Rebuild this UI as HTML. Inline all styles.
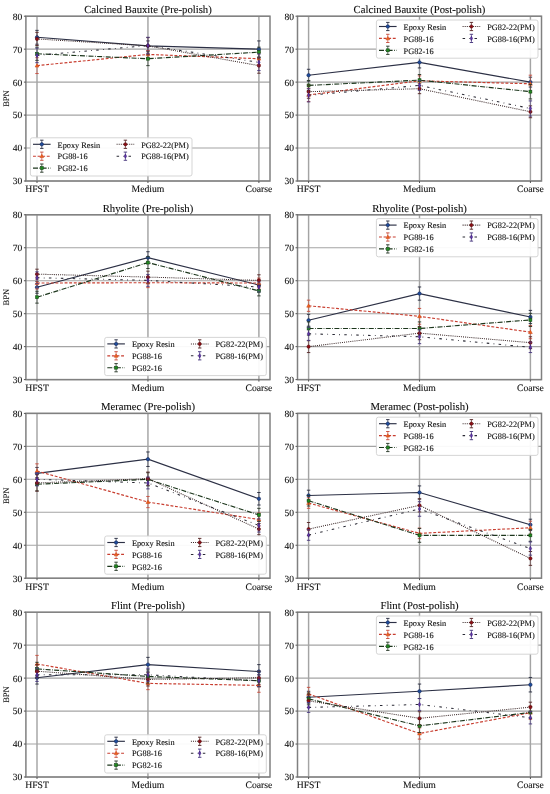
<!DOCTYPE html>
<html><head><meta charset="utf-8"><title>BPN charts</title>
<style>
html,body{margin:0;padding:0;background:#fff;}
body{width:550px;height:794px;overflow:hidden;font-family:"Liberation Serif",serif;}
svg{display:block;filter:blur(0.35px);}
text{text-rendering:geometricPrecision;stroke:#111;stroke-width:0.1px;}
</style></head><body>
<svg width="550" height="794" viewBox="0 0 550 794" font-family='"Liberation Serif", serif' fill="#0c0c0c">
<line x1="25.9" y1="181" x2="270" y2="181" stroke="#a4a4a4" stroke-width="1.1"/>
<line x1="25.9" y1="148.04" x2="270" y2="148.04" stroke="#a4a4a4" stroke-width="1.1"/>
<line x1="25.9" y1="115.08" x2="270" y2="115.08" stroke="#a4a4a4" stroke-width="1.1"/>
<line x1="25.9" y1="82.12" x2="270" y2="82.12" stroke="#a4a4a4" stroke-width="1.1"/>
<line x1="25.9" y1="49.16" x2="270" y2="49.16" stroke="#a4a4a4" stroke-width="1.1"/>
<line x1="25.9" y1="16.2" x2="270" y2="16.2" stroke="#a4a4a4" stroke-width="1.1"/>
<line x1="37" y1="16.2" x2="37" y2="181" stroke="#a4a4a4" stroke-width="1.45"/>
<line x1="147.95" y1="16.2" x2="147.95" y2="181" stroke="#a4a4a4" stroke-width="1.45"/>
<line x1="258.9" y1="16.2" x2="258.9" y2="181" stroke="#a4a4a4" stroke-width="1.45"/>
<rect x="25.9" y="16.2" width="244.1" height="164.8" fill="none" stroke="#808080" stroke-width="1.5"/>
<line x1="23.9" y1="181" x2="25.9" y2="181" stroke="#555" stroke-width="1"/>
<text x="22.3" y="184.4" font-size="9.5" text-anchor="end">30</text>
<line x1="23.9" y1="148.04" x2="25.9" y2="148.04" stroke="#555" stroke-width="1"/>
<text x="22.3" y="151.44" font-size="9.5" text-anchor="end">40</text>
<line x1="23.9" y1="115.08" x2="25.9" y2="115.08" stroke="#555" stroke-width="1"/>
<text x="22.3" y="118.48" font-size="9.5" text-anchor="end">50</text>
<line x1="23.9" y1="82.12" x2="25.9" y2="82.12" stroke="#555" stroke-width="1"/>
<text x="22.3" y="85.52" font-size="9.5" text-anchor="end">60</text>
<line x1="23.9" y1="49.16" x2="25.9" y2="49.16" stroke="#555" stroke-width="1"/>
<text x="22.3" y="52.56" font-size="9.5" text-anchor="end">70</text>
<line x1="23.9" y1="16.2" x2="25.9" y2="16.2" stroke="#555" stroke-width="1"/>
<text x="22.3" y="19.6" font-size="9.5" text-anchor="end">80</text>
<line x1="37" y1="181" x2="37" y2="183" stroke="#555" stroke-width="1"/>
<text x="37" y="192.3" font-size="9.7" text-anchor="middle">HFST</text>
<line x1="147.95" y1="181" x2="147.95" y2="183" stroke="#555" stroke-width="1"/>
<text x="147.95" y="192.3" font-size="9.7" text-anchor="middle">Medium</text>
<line x1="258.9" y1="181" x2="258.9" y2="183" stroke="#555" stroke-width="1"/>
<text x="258.9" y="192.3" font-size="9.7" text-anchor="middle">Coarse</text>
<text x="147.95" y="13" font-size="10.7" text-anchor="middle">Calcined Bauxite (Pre-polish)</text>
<text x="0" y="0" font-size="8.5" text-anchor="middle" transform="translate(9.4 98.6) rotate(-90)">BPN</text>
<path d="M37 37.29 L147.95 45.86 L258.9 49.16" fill="none" stroke="#2c3045" stroke-width="1.15"/>
<path d="M37 30.37V44.22" stroke="#2c3045" stroke-width="0.6" stroke-opacity="0.85" fill="none"/>
<path d="M35.3 30.37H38.7M35.3 44.22H38.7" stroke="#2c3045" stroke-width="0.95" fill="none"/>
<path d="M147.95 40.92V50.81" stroke="#2c3045" stroke-width="0.6" stroke-opacity="0.85" fill="none"/>
<path d="M146.25 40.92H149.65M146.25 50.81H149.65" stroke="#2c3045" stroke-width="0.95" fill="none"/>
<path d="M258.9 40.92V57.4" stroke="#2c3045" stroke-width="0.6" stroke-opacity="0.85" fill="none"/>
<path d="M257.2 40.92H260.6M257.2 57.4H260.6" stroke="#2c3045" stroke-width="0.95" fill="none"/>
<circle cx="37" cy="37.29" r="1.7" fill="#1f4e9e" stroke="#17285a" stroke-width="0.6"/>
<circle cx="147.95" cy="45.86" r="1.7" fill="#1f4e9e" stroke="#17285a" stroke-width="0.6"/>
<circle cx="258.9" cy="49.16" r="1.7" fill="#1f4e9e" stroke="#17285a" stroke-width="0.6"/>
<path d="M37 65.64 L147.95 54.43 L258.9 58.72" fill="none" stroke="#c83e30" stroke-width="1.15" stroke-dasharray="2.9,1.7"/>
<path d="M37 57.73V73.55" stroke="#c85040" stroke-width="0.6" stroke-opacity="0.85" fill="none"/>
<path d="M35.3 57.73H38.7M35.3 73.55H38.7" stroke="#c85040" stroke-width="0.95" fill="none"/>
<path d="M147.95 50.48V58.39" stroke="#c85040" stroke-width="0.6" stroke-opacity="0.85" fill="none"/>
<path d="M146.25 50.48H149.65M146.25 58.39H149.65" stroke="#c85040" stroke-width="0.95" fill="none"/>
<path d="M258.9 52.79V64.65" stroke="#c85040" stroke-width="0.6" stroke-opacity="0.85" fill="none"/>
<path d="M257.2 52.79H260.6M257.2 64.65H260.6" stroke="#c85040" stroke-width="0.95" fill="none"/>
<polygon points="37,63.78 38.85,67.03 35.14,67.03" fill="#f06418" stroke="#d04a20" stroke-width="0.6"/>
<polygon points="147.95,52.58 149.81,55.83 146.09,55.83" fill="#f06418" stroke="#d04a20" stroke-width="0.6"/>
<polygon points="258.9,56.86 260.76,60.11 257.05,60.11" fill="#f06418" stroke="#d04a20" stroke-width="0.6"/>
<path d="M37 53.77 L147.95 58.72 L258.9 52.13" fill="none" stroke="#1c361c" stroke-width="1.15" stroke-dasharray="5.0,1.4,0.8,1.4"/>
<path d="M37 47.18V60.37" stroke="#2a3a2a" stroke-width="0.6" stroke-opacity="0.85" fill="none"/>
<path d="M35.3 47.18H38.7M35.3 60.37H38.7" stroke="#2a3a2a" stroke-width="0.95" fill="none"/>
<path d="M147.95 51.8V65.64" stroke="#2a3a2a" stroke-width="0.6" stroke-opacity="0.85" fill="none"/>
<path d="M146.25 51.8H149.65M146.25 65.64H149.65" stroke="#2a3a2a" stroke-width="0.95" fill="none"/>
<path d="M258.9 47.18V57.07" stroke="#2a3a2a" stroke-width="0.6" stroke-opacity="0.85" fill="none"/>
<path d="M257.2 47.18H260.6M257.2 57.07H260.6" stroke="#2a3a2a" stroke-width="0.95" fill="none"/>
<rect x="35.55" y="52.33" width="2.89" height="2.89" fill="#1e8c1e" stroke="#174a17" stroke-width="0.6"/>
<rect x="146.5" y="57.27" width="2.89" height="2.89" fill="#1e8c1e" stroke="#174a17" stroke-width="0.6"/>
<rect x="257.46" y="50.68" width="2.89" height="2.89" fill="#1e8c1e" stroke="#174a17" stroke-width="0.6"/>
<path d="M37 38.94 L147.95 45.86 L258.9 65.64" fill="none" stroke="#3a2828" stroke-width="1.05" stroke-dasharray="1.0,1.1"/>
<path d="M37 32.35V45.53" stroke="#5a2a2a" stroke-width="0.6" stroke-opacity="0.85" fill="none"/>
<path d="M35.3 32.35H38.7M35.3 45.53H38.7" stroke="#5a2a2a" stroke-width="0.95" fill="none"/>
<path d="M147.95 37.62V54.1" stroke="#5a2a2a" stroke-width="0.6" stroke-opacity="0.85" fill="none"/>
<path d="M146.25 37.62H149.65M146.25 54.1H149.65" stroke="#5a2a2a" stroke-width="0.95" fill="none"/>
<path d="M258.9 58.06V73.22" stroke="#5a2a2a" stroke-width="0.6" stroke-opacity="0.85" fill="none"/>
<path d="M257.2 58.06H260.6M257.2 73.22H260.6" stroke="#5a2a2a" stroke-width="0.95" fill="none"/>
<circle cx="37" cy="38.94" r="1.61" fill="#8e0e16" stroke="#5a0c0c" stroke-width="0.6"/>
<circle cx="147.95" cy="45.86" r="1.61" fill="#8e0e16" stroke="#5a0c0c" stroke-width="0.6"/>
<circle cx="258.9" cy="65.64" r="1.61" fill="#8e0e16" stroke="#5a0c0c" stroke-width="0.6"/>
<path d="M37 55.42 L147.95 45.53 L258.9 62.34" fill="none" stroke="#2a2a35" stroke-width="1.05" stroke-dasharray="2.5,4.3,0.8,4.3"/>
<path d="M37 48.17V62.67" stroke="#4a3a80" stroke-width="0.6" stroke-opacity="0.85" fill="none"/>
<path d="M35.3 48.17H38.7M35.3 62.67H38.7" stroke="#4a3a80" stroke-width="0.95" fill="none"/>
<path d="M147.95 37.29V53.77" stroke="#4a3a80" stroke-width="0.6" stroke-opacity="0.85" fill="none"/>
<path d="M146.25 37.29H149.65M146.25 53.77H149.65" stroke="#4a3a80" stroke-width="0.95" fill="none"/>
<path d="M258.9 54.1V70.58" stroke="#4a3a80" stroke-width="0.6" stroke-opacity="0.85" fill="none"/>
<path d="M257.2 54.1H260.6M257.2 70.58H260.6" stroke="#4a3a80" stroke-width="0.95" fill="none"/>
<polygon points="37,53.3 38.19,55.42 37,57.55 35.81,55.42" fill="#6038a8" stroke="#3a1a7a" stroke-width="0.6"/>
<polygon points="147.95,43.41 149.14,45.53 147.95,47.66 146.76,45.53" fill="#6038a8" stroke="#3a1a7a" stroke-width="0.6"/>
<polygon points="258.9,60.22 260.09,62.34 258.9,64.47 257.71,62.34" fill="#6038a8" stroke="#3a1a7a" stroke-width="0.6"/>
<rect x="30.4" y="137.8" width="161.6" height="38.2" rx="2" fill="#ffffff" fill-opacity="0.93" stroke="#d0d0d0" stroke-width="0.9"/>
<path d="M33 144.3 L50.6 144.3" fill="none" stroke="#2c3045" stroke-width="1.15"/>
<path d="M41.8 140.2V148.4" stroke="#2c3045" stroke-width="0.75" fill="none"/>
<path d="M40.1 140.2H43.5M40.1 148.4H43.5" stroke="#2c3045" stroke-width="0.95" fill="none"/>
<circle cx="41.8" cy="144.3" r="1.7" fill="#1f4e9e" stroke="#17285a" stroke-width="0.6"/>
<text x="57.6" y="147.5" font-size="8.3">Epoxy Resin</text>
<path d="M33 156.2 L50.6 156.2" fill="none" stroke="#c83e30" stroke-width="1.15" stroke-dasharray="2.9,1.7"/>
<path d="M41.8 152.1V160.3" stroke="#c85040" stroke-width="0.75" fill="none"/>
<path d="M40.1 152.1H43.5M40.1 160.3H43.5" stroke="#c85040" stroke-width="0.95" fill="none"/>
<polygon points="41.8,154.34 43.66,157.59 39.94,157.59" fill="#f06418" stroke="#d04a20" stroke-width="0.6"/>
<text x="57.6" y="159.4" font-size="8.3">PG88-16</text>
<path d="M33 168.1 L50.6 168.1" fill="none" stroke="#1c361c" stroke-width="1.15" stroke-dasharray="5.0,1.4,0.8,1.4"/>
<path d="M41.8 164V172.2" stroke="#2a3a2a" stroke-width="0.75" fill="none"/>
<path d="M40.1 164H43.5M40.1 172.2H43.5" stroke="#2a3a2a" stroke-width="0.95" fill="none"/>
<rect x="40.35" y="166.66" width="2.89" height="2.89" fill="#1e8c1e" stroke="#174a17" stroke-width="0.6"/>
<text x="57.6" y="171.3" font-size="8.3">PG82-16</text>
<path d="M116.6 144.3 L134.2 144.3" fill="none" stroke="#3a2828" stroke-width="1.05" stroke-dasharray="1.0,1.1"/>
<path d="M125.4 140.2V148.4" stroke="#5a2a2a" stroke-width="0.75" fill="none"/>
<path d="M123.7 140.2H127.1M123.7 148.4H127.1" stroke="#5a2a2a" stroke-width="0.95" fill="none"/>
<circle cx="125.4" cy="144.3" r="1.61" fill="#8e0e16" stroke="#5a0c0c" stroke-width="0.6"/>
<text x="141.2" y="147.5" font-size="8.3">PG82-22(PM)</text>
<path d="M116.6 156.2 L134.2 156.2" fill="none" stroke="#2a2a35" stroke-width="1.05" stroke-dasharray="2.5,4.3,0.8,4.3"/>
<path d="M125.4 152.1V160.3" stroke="#4a3a80" stroke-width="0.75" fill="none"/>
<path d="M123.7 152.1H127.1M123.7 160.3H127.1" stroke="#4a3a80" stroke-width="0.95" fill="none"/>
<polygon points="125.4,154.08 126.59,156.2 125.4,158.33 124.21,156.2" fill="#6038a8" stroke="#3a1a7a" stroke-width="0.6"/>
<text x="141.2" y="159.4" font-size="8.3">PG88-16(PM)</text>
<line x1="297.5" y1="181" x2="541.5" y2="181" stroke="#a4a4a4" stroke-width="1.1"/>
<line x1="297.5" y1="148.04" x2="541.5" y2="148.04" stroke="#a4a4a4" stroke-width="1.1"/>
<line x1="297.5" y1="115.08" x2="541.5" y2="115.08" stroke="#a4a4a4" stroke-width="1.1"/>
<line x1="297.5" y1="82.12" x2="541.5" y2="82.12" stroke="#a4a4a4" stroke-width="1.1"/>
<line x1="297.5" y1="49.16" x2="541.5" y2="49.16" stroke="#a4a4a4" stroke-width="1.1"/>
<line x1="297.5" y1="16.2" x2="541.5" y2="16.2" stroke="#a4a4a4" stroke-width="1.1"/>
<line x1="308.59" y1="16.2" x2="308.59" y2="181" stroke="#a4a4a4" stroke-width="1.45"/>
<line x1="419.5" y1="16.2" x2="419.5" y2="181" stroke="#a4a4a4" stroke-width="1.45"/>
<line x1="530.41" y1="16.2" x2="530.41" y2="181" stroke="#a4a4a4" stroke-width="1.45"/>
<rect x="297.5" y="16.2" width="244" height="164.8" fill="none" stroke="#808080" stroke-width="1.5"/>
<line x1="295.5" y1="181" x2="297.5" y2="181" stroke="#555" stroke-width="1"/>
<text x="293.9" y="184.4" font-size="9.5" text-anchor="end">30</text>
<line x1="295.5" y1="148.04" x2="297.5" y2="148.04" stroke="#555" stroke-width="1"/>
<text x="293.9" y="151.44" font-size="9.5" text-anchor="end">40</text>
<line x1="295.5" y1="115.08" x2="297.5" y2="115.08" stroke="#555" stroke-width="1"/>
<text x="293.9" y="118.48" font-size="9.5" text-anchor="end">50</text>
<line x1="295.5" y1="82.12" x2="297.5" y2="82.12" stroke="#555" stroke-width="1"/>
<text x="293.9" y="85.52" font-size="9.5" text-anchor="end">60</text>
<line x1="295.5" y1="49.16" x2="297.5" y2="49.16" stroke="#555" stroke-width="1"/>
<text x="293.9" y="52.56" font-size="9.5" text-anchor="end">70</text>
<line x1="295.5" y1="16.2" x2="297.5" y2="16.2" stroke="#555" stroke-width="1"/>
<text x="293.9" y="19.6" font-size="9.5" text-anchor="end">80</text>
<line x1="308.59" y1="181" x2="308.59" y2="183" stroke="#555" stroke-width="1"/>
<text x="308.59" y="192.3" font-size="9.7" text-anchor="middle">HFST</text>
<line x1="419.5" y1="181" x2="419.5" y2="183" stroke="#555" stroke-width="1"/>
<text x="419.5" y="192.3" font-size="9.7" text-anchor="middle">Medium</text>
<line x1="530.41" y1="181" x2="530.41" y2="183" stroke="#555" stroke-width="1"/>
<text x="530.41" y="192.3" font-size="9.7" text-anchor="middle">Coarse</text>
<text x="419.5" y="13" font-size="10.7" text-anchor="middle">Calcined Bauxite (Post-polish)</text>
<path d="M308.59 75.2 L419.5 62.34 L530.41 82.12" fill="none" stroke="#2c3045" stroke-width="1.15"/>
<path d="M308.59 69.27V81.13" stroke="#2c3045" stroke-width="0.6" stroke-opacity="0.85" fill="none"/>
<path d="M306.89 69.27H310.29M306.89 81.13H310.29" stroke="#2c3045" stroke-width="0.95" fill="none"/>
<path d="M419.5 56.74V67.95" stroke="#2c3045" stroke-width="0.6" stroke-opacity="0.85" fill="none"/>
<path d="M417.8 56.74H421.2M417.8 67.95H421.2" stroke="#2c3045" stroke-width="0.95" fill="none"/>
<path d="M530.41 77.18V87.06" stroke="#2c3045" stroke-width="0.6" stroke-opacity="0.85" fill="none"/>
<path d="M528.71 77.18H532.11M528.71 87.06H532.11" stroke="#2c3045" stroke-width="0.95" fill="none"/>
<circle cx="308.59" cy="75.2" r="1.7" fill="#1f4e9e" stroke="#17285a" stroke-width="0.6"/>
<circle cx="419.5" cy="62.34" r="1.7" fill="#1f4e9e" stroke="#17285a" stroke-width="0.6"/>
<circle cx="530.41" cy="82.12" r="1.7" fill="#1f4e9e" stroke="#17285a" stroke-width="0.6"/>
<path d="M308.59 94.97 L419.5 80.8 L530.41 83.77" fill="none" stroke="#c83e30" stroke-width="1.15" stroke-dasharray="2.9,1.7"/>
<path d="M308.59 88.38V101.57" stroke="#c85040" stroke-width="0.6" stroke-opacity="0.85" fill="none"/>
<path d="M306.89 88.38H310.29M306.89 101.57H310.29" stroke="#c85040" stroke-width="0.95" fill="none"/>
<path d="M419.5 75.86V85.75" stroke="#c85040" stroke-width="0.6" stroke-opacity="0.85" fill="none"/>
<path d="M417.8 75.86H421.2M417.8 85.75H421.2" stroke="#c85040" stroke-width="0.95" fill="none"/>
<path d="M530.41 75.2V92.34" stroke="#c85040" stroke-width="0.6" stroke-opacity="0.85" fill="none"/>
<path d="M528.71 75.2H532.11M528.71 92.34H532.11" stroke="#c85040" stroke-width="0.95" fill="none"/>
<polygon points="308.59,93.12 310.45,96.37 306.73,96.37" fill="#f06418" stroke="#d04a20" stroke-width="0.6"/>
<polygon points="419.5,78.94 421.36,82.19 417.64,82.19" fill="#f06418" stroke="#d04a20" stroke-width="0.6"/>
<polygon points="530.41,81.91 532.27,85.16 528.55,85.16" fill="#f06418" stroke="#d04a20" stroke-width="0.6"/>
<path d="M308.59 85.42 L419.5 80.14 L530.41 91.68" fill="none" stroke="#1c361c" stroke-width="1.15" stroke-dasharray="5.0,1.4,0.8,1.4"/>
<path d="M308.59 80.47V90.36" stroke="#2a3a2a" stroke-width="0.6" stroke-opacity="0.85" fill="none"/>
<path d="M306.89 80.47H310.29M306.89 90.36H310.29" stroke="#2a3a2a" stroke-width="0.95" fill="none"/>
<path d="M419.5 74.54V85.75" stroke="#2a3a2a" stroke-width="0.6" stroke-opacity="0.85" fill="none"/>
<path d="M417.8 74.54H421.2M417.8 85.75H421.2" stroke="#2a3a2a" stroke-width="0.95" fill="none"/>
<path d="M530.41 84.43V98.93" stroke="#2a3a2a" stroke-width="0.6" stroke-opacity="0.85" fill="none"/>
<path d="M528.71 84.43H532.11M528.71 98.93H532.11" stroke="#2a3a2a" stroke-width="0.95" fill="none"/>
<rect x="307.15" y="83.97" width="2.89" height="2.89" fill="#1e8c1e" stroke="#174a17" stroke-width="0.6"/>
<rect x="418.06" y="78.7" width="2.89" height="2.89" fill="#1e8c1e" stroke="#174a17" stroke-width="0.6"/>
<rect x="528.96" y="90.23" width="2.89" height="2.89" fill="#1e8c1e" stroke="#174a17" stroke-width="0.6"/>
<path d="M308.59 91.68 L419.5 88.71 L530.41 111.78" fill="none" stroke="#3a2828" stroke-width="1.05" stroke-dasharray="1.0,1.1"/>
<path d="M308.59 85.09V98.27" stroke="#5a2a2a" stroke-width="0.6" stroke-opacity="0.85" fill="none"/>
<path d="M306.89 85.09H310.29M306.89 98.27H310.29" stroke="#5a2a2a" stroke-width="0.95" fill="none"/>
<path d="M419.5 83.77V93.66" stroke="#5a2a2a" stroke-width="0.6" stroke-opacity="0.85" fill="none"/>
<path d="M417.8 83.77H421.2M417.8 93.66H421.2" stroke="#5a2a2a" stroke-width="0.95" fill="none"/>
<path d="M530.41 105.85V117.72" stroke="#5a2a2a" stroke-width="0.6" stroke-opacity="0.85" fill="none"/>
<path d="M528.71 105.85H532.11M528.71 117.72H532.11" stroke="#5a2a2a" stroke-width="0.95" fill="none"/>
<circle cx="308.59" cy="91.68" r="1.61" fill="#8e0e16" stroke="#5a0c0c" stroke-width="0.6"/>
<circle cx="419.5" cy="88.71" r="1.61" fill="#8e0e16" stroke="#5a0c0c" stroke-width="0.6"/>
<circle cx="530.41" cy="111.78" r="1.61" fill="#8e0e16" stroke="#5a0c0c" stroke-width="0.6"/>
<path d="M308.59 95.3 L419.5 85.42 L530.41 108.49" fill="none" stroke="#2a2a35" stroke-width="1.05" stroke-dasharray="2.5,4.3,0.8,4.3"/>
<path d="M308.59 88.71V101.9" stroke="#4a3a80" stroke-width="0.6" stroke-opacity="0.85" fill="none"/>
<path d="M306.89 88.71H310.29M306.89 101.9H310.29" stroke="#4a3a80" stroke-width="0.95" fill="none"/>
<path d="M419.5 80.47V90.36" stroke="#4a3a80" stroke-width="0.6" stroke-opacity="0.85" fill="none"/>
<path d="M417.8 80.47H421.2M417.8 90.36H421.2" stroke="#4a3a80" stroke-width="0.95" fill="none"/>
<path d="M530.41 100.91V116.07" stroke="#4a3a80" stroke-width="0.6" stroke-opacity="0.85" fill="none"/>
<path d="M528.71 100.91H532.11M528.71 116.07H532.11" stroke="#4a3a80" stroke-width="0.95" fill="none"/>
<polygon points="308.59,93.18 309.78,95.3 308.59,97.43 307.4,95.3" fill="#6038a8" stroke="#3a1a7a" stroke-width="0.6"/>
<polygon points="419.5,83.29 420.69,85.42 419.5,87.54 418.31,85.42" fill="#6038a8" stroke="#3a1a7a" stroke-width="0.6"/>
<polygon points="530.41,106.36 531.6,108.49 530.41,110.61 529.22,108.49" fill="#6038a8" stroke="#3a1a7a" stroke-width="0.6"/>
<rect x="376.4" y="20" width="161.6" height="38.2" rx="2" fill="#ffffff" fill-opacity="0.93" stroke="#d0d0d0" stroke-width="0.9"/>
<path d="M379 26.5 L396.6 26.5" fill="none" stroke="#2c3045" stroke-width="1.15"/>
<path d="M387.8 22.4V30.6" stroke="#2c3045" stroke-width="0.75" fill="none"/>
<path d="M386.1 22.4H389.5M386.1 30.6H389.5" stroke="#2c3045" stroke-width="0.95" fill="none"/>
<circle cx="387.8" cy="26.5" r="1.7" fill="#1f4e9e" stroke="#17285a" stroke-width="0.6"/>
<text x="403.6" y="29.7" font-size="8.3">Epoxy Resin</text>
<path d="M379 38.4 L396.6 38.4" fill="none" stroke="#c83e30" stroke-width="1.15" stroke-dasharray="2.9,1.7"/>
<path d="M387.8 34.3V42.5" stroke="#c85040" stroke-width="0.75" fill="none"/>
<path d="M386.1 34.3H389.5M386.1 42.5H389.5" stroke="#c85040" stroke-width="0.95" fill="none"/>
<polygon points="387.8,36.54 389.66,39.79 385.94,39.79" fill="#f06418" stroke="#d04a20" stroke-width="0.6"/>
<text x="403.6" y="41.6" font-size="8.3">PG88-16</text>
<path d="M379 50.3 L396.6 50.3" fill="none" stroke="#1c361c" stroke-width="1.15" stroke-dasharray="5.0,1.4,0.8,1.4"/>
<path d="M387.8 46.2V54.4" stroke="#2a3a2a" stroke-width="0.75" fill="none"/>
<path d="M386.1 46.2H389.5M386.1 54.4H389.5" stroke="#2a3a2a" stroke-width="0.95" fill="none"/>
<rect x="386.36" y="48.85" width="2.89" height="2.89" fill="#1e8c1e" stroke="#174a17" stroke-width="0.6"/>
<text x="403.6" y="53.5" font-size="8.3">PG82-16</text>
<path d="M462.6 26.5 L480.2 26.5" fill="none" stroke="#3a2828" stroke-width="1.05" stroke-dasharray="1.0,1.1"/>
<path d="M471.4 22.4V30.6" stroke="#5a2a2a" stroke-width="0.75" fill="none"/>
<path d="M469.7 22.4H473.1M469.7 30.6H473.1" stroke="#5a2a2a" stroke-width="0.95" fill="none"/>
<circle cx="471.4" cy="26.5" r="1.61" fill="#8e0e16" stroke="#5a0c0c" stroke-width="0.6"/>
<text x="487.2" y="29.7" font-size="8.3">PG82-22(PM)</text>
<path d="M462.6 38.4 L480.2 38.4" fill="none" stroke="#2a2a35" stroke-width="1.05" stroke-dasharray="2.5,4.3,0.8,4.3"/>
<path d="M471.4 34.3V42.5" stroke="#4a3a80" stroke-width="0.75" fill="none"/>
<path d="M469.7 34.3H473.1M469.7 42.5H473.1" stroke="#4a3a80" stroke-width="0.95" fill="none"/>
<polygon points="471.4,36.27 472.59,38.4 471.4,40.52 470.21,38.4" fill="#6038a8" stroke="#3a1a7a" stroke-width="0.6"/>
<text x="487.2" y="41.6" font-size="8.3">PG88-16(PM)</text>
<line x1="25.9" y1="379.6" x2="270" y2="379.6" stroke="#a4a4a4" stroke-width="1.1"/>
<line x1="25.9" y1="346.64" x2="270" y2="346.64" stroke="#a4a4a4" stroke-width="1.1"/>
<line x1="25.9" y1="313.68" x2="270" y2="313.68" stroke="#a4a4a4" stroke-width="1.1"/>
<line x1="25.9" y1="280.72" x2="270" y2="280.72" stroke="#a4a4a4" stroke-width="1.1"/>
<line x1="25.9" y1="247.76" x2="270" y2="247.76" stroke="#a4a4a4" stroke-width="1.1"/>
<line x1="25.9" y1="214.8" x2="270" y2="214.8" stroke="#a4a4a4" stroke-width="1.1"/>
<line x1="37" y1="214.8" x2="37" y2="379.6" stroke="#a4a4a4" stroke-width="1.45"/>
<line x1="147.95" y1="214.8" x2="147.95" y2="379.6" stroke="#a4a4a4" stroke-width="1.45"/>
<line x1="258.9" y1="214.8" x2="258.9" y2="379.6" stroke="#a4a4a4" stroke-width="1.45"/>
<rect x="25.9" y="214.8" width="244.1" height="164.8" fill="none" stroke="#808080" stroke-width="1.5"/>
<line x1="23.9" y1="379.6" x2="25.9" y2="379.6" stroke="#555" stroke-width="1"/>
<text x="22.3" y="383" font-size="9.5" text-anchor="end">30</text>
<line x1="23.9" y1="346.64" x2="25.9" y2="346.64" stroke="#555" stroke-width="1"/>
<text x="22.3" y="350.04" font-size="9.5" text-anchor="end">40</text>
<line x1="23.9" y1="313.68" x2="25.9" y2="313.68" stroke="#555" stroke-width="1"/>
<text x="22.3" y="317.08" font-size="9.5" text-anchor="end">50</text>
<line x1="23.9" y1="280.72" x2="25.9" y2="280.72" stroke="#555" stroke-width="1"/>
<text x="22.3" y="284.12" font-size="9.5" text-anchor="end">60</text>
<line x1="23.9" y1="247.76" x2="25.9" y2="247.76" stroke="#555" stroke-width="1"/>
<text x="22.3" y="251.16" font-size="9.5" text-anchor="end">70</text>
<line x1="23.9" y1="214.8" x2="25.9" y2="214.8" stroke="#555" stroke-width="1"/>
<text x="22.3" y="218.2" font-size="9.5" text-anchor="end">80</text>
<line x1="37" y1="379.6" x2="37" y2="381.6" stroke="#555" stroke-width="1"/>
<text x="37" y="390.9" font-size="9.7" text-anchor="middle">HFST</text>
<line x1="147.95" y1="379.6" x2="147.95" y2="381.6" stroke="#555" stroke-width="1"/>
<text x="147.95" y="390.9" font-size="9.7" text-anchor="middle">Medium</text>
<line x1="258.9" y1="379.6" x2="258.9" y2="381.6" stroke="#555" stroke-width="1"/>
<text x="258.9" y="390.9" font-size="9.7" text-anchor="middle">Coarse</text>
<text x="147.95" y="211.6" font-size="10.7" text-anchor="middle">Rhyolite (Pre-polish)</text>
<text x="0" y="0" font-size="8.5" text-anchor="middle" transform="translate(9.4 297.2) rotate(-90)">BPN</text>
<path d="M37 287.31 L147.95 257.65 L258.9 285" fill="none" stroke="#2c3045" stroke-width="1.15"/>
<path d="M37 281.38V293.24" stroke="#2c3045" stroke-width="0.6" stroke-opacity="0.85" fill="none"/>
<path d="M35.3 281.38H38.7M35.3 293.24H38.7" stroke="#2c3045" stroke-width="0.95" fill="none"/>
<path d="M147.95 251.72V263.58" stroke="#2c3045" stroke-width="0.6" stroke-opacity="0.85" fill="none"/>
<path d="M146.25 251.72H149.65M146.25 263.58H149.65" stroke="#2c3045" stroke-width="0.95" fill="none"/>
<path d="M258.9 280.06V289.95" stroke="#2c3045" stroke-width="0.6" stroke-opacity="0.85" fill="none"/>
<path d="M257.2 280.06H260.6M257.2 289.95H260.6" stroke="#2c3045" stroke-width="0.95" fill="none"/>
<circle cx="37" cy="287.31" r="1.7" fill="#1f4e9e" stroke="#17285a" stroke-width="0.6"/>
<circle cx="147.95" cy="257.65" r="1.7" fill="#1f4e9e" stroke="#17285a" stroke-width="0.6"/>
<circle cx="258.9" cy="285" r="1.7" fill="#1f4e9e" stroke="#17285a" stroke-width="0.6"/>
<path d="M37 283.03 L147.95 282.7 L258.9 283.03" fill="none" stroke="#c83e30" stroke-width="1.15" stroke-dasharray="2.9,1.7"/>
<path d="M37 277.09V288.96" stroke="#c85040" stroke-width="0.6" stroke-opacity="0.85" fill="none"/>
<path d="M35.3 277.09H38.7M35.3 288.96H38.7" stroke="#c85040" stroke-width="0.95" fill="none"/>
<path d="M147.95 277.75V287.64" stroke="#c85040" stroke-width="0.6" stroke-opacity="0.85" fill="none"/>
<path d="M146.25 277.75H149.65M146.25 287.64H149.65" stroke="#c85040" stroke-width="0.95" fill="none"/>
<path d="M258.9 278.08V287.97" stroke="#c85040" stroke-width="0.6" stroke-opacity="0.85" fill="none"/>
<path d="M257.2 278.08H260.6M257.2 287.97H260.6" stroke="#c85040" stroke-width="0.95" fill="none"/>
<polygon points="37,281.17 38.85,284.42 35.14,284.42" fill="#f06418" stroke="#d04a20" stroke-width="0.6"/>
<polygon points="147.95,280.84 149.81,284.09 146.09,284.09" fill="#f06418" stroke="#d04a20" stroke-width="0.6"/>
<polygon points="258.9,281.17 260.76,284.42 257.05,284.42" fill="#f06418" stroke="#d04a20" stroke-width="0.6"/>
<path d="M37 297.2 L147.95 262.59 L258.9 290.94" fill="none" stroke="#1c361c" stroke-width="1.15" stroke-dasharray="5.0,1.4,0.8,1.4"/>
<path d="M37 291.27V303.13" stroke="#2a3a2a" stroke-width="0.6" stroke-opacity="0.85" fill="none"/>
<path d="M35.3 291.27H38.7M35.3 303.13H38.7" stroke="#2a3a2a" stroke-width="0.95" fill="none"/>
<path d="M147.95 256.66V268.52" stroke="#2a3a2a" stroke-width="0.6" stroke-opacity="0.85" fill="none"/>
<path d="M146.25 256.66H149.65M146.25 268.52H149.65" stroke="#2a3a2a" stroke-width="0.95" fill="none"/>
<path d="M258.9 285.99V295.88" stroke="#2a3a2a" stroke-width="0.6" stroke-opacity="0.85" fill="none"/>
<path d="M257.2 285.99H260.6M257.2 295.88H260.6" stroke="#2a3a2a" stroke-width="0.95" fill="none"/>
<rect x="35.55" y="295.76" width="2.89" height="2.89" fill="#1e8c1e" stroke="#174a17" stroke-width="0.6"/>
<rect x="146.5" y="261.15" width="2.89" height="2.89" fill="#1e8c1e" stroke="#174a17" stroke-width="0.6"/>
<rect x="257.46" y="289.49" width="2.89" height="2.89" fill="#1e8c1e" stroke="#174a17" stroke-width="0.6"/>
<path d="M37 274.13 L147.95 277.09 L258.9 280.39" fill="none" stroke="#3a2828" stroke-width="1.05" stroke-dasharray="1.0,1.1"/>
<path d="M37 269.18V279.07" stroke="#5a2a2a" stroke-width="0.6" stroke-opacity="0.85" fill="none"/>
<path d="M35.3 269.18H38.7M35.3 279.07H38.7" stroke="#5a2a2a" stroke-width="0.95" fill="none"/>
<path d="M147.95 271.16V283.03" stroke="#5a2a2a" stroke-width="0.6" stroke-opacity="0.85" fill="none"/>
<path d="M146.25 271.16H149.65M146.25 283.03H149.65" stroke="#5a2a2a" stroke-width="0.95" fill="none"/>
<path d="M258.9 274.79V285.99" stroke="#5a2a2a" stroke-width="0.6" stroke-opacity="0.85" fill="none"/>
<path d="M257.2 274.79H260.6M257.2 285.99H260.6" stroke="#5a2a2a" stroke-width="0.95" fill="none"/>
<circle cx="37" cy="274.13" r="1.61" fill="#8e0e16" stroke="#5a0c0c" stroke-width="0.6"/>
<circle cx="147.95" cy="277.09" r="1.61" fill="#8e0e16" stroke="#5a0c0c" stroke-width="0.6"/>
<circle cx="258.9" cy="280.39" r="1.61" fill="#8e0e16" stroke="#5a0c0c" stroke-width="0.6"/>
<path d="M37 277.75 L147.95 280.39 L258.9 286.98" fill="none" stroke="#2a2a35" stroke-width="1.05" stroke-dasharray="2.5,4.3,0.8,4.3"/>
<path d="M37 271.82V283.69" stroke="#4a3a80" stroke-width="0.6" stroke-opacity="0.85" fill="none"/>
<path d="M35.3 271.82H38.7M35.3 283.69H38.7" stroke="#4a3a80" stroke-width="0.95" fill="none"/>
<path d="M147.95 274.46V286.32" stroke="#4a3a80" stroke-width="0.6" stroke-opacity="0.85" fill="none"/>
<path d="M146.25 274.46H149.65M146.25 286.32H149.65" stroke="#4a3a80" stroke-width="0.95" fill="none"/>
<path d="M258.9 282.04V291.93" stroke="#4a3a80" stroke-width="0.6" stroke-opacity="0.85" fill="none"/>
<path d="M257.2 282.04H260.6M257.2 291.93H260.6" stroke="#4a3a80" stroke-width="0.95" fill="none"/>
<polygon points="37,275.63 38.19,277.75 37,279.88 35.81,277.75" fill="#6038a8" stroke="#3a1a7a" stroke-width="0.6"/>
<polygon points="147.95,278.27 149.14,280.39 147.95,282.52 146.76,280.39" fill="#6038a8" stroke="#3a1a7a" stroke-width="0.6"/>
<polygon points="258.9,284.86 260.09,286.98 258.9,289.11 257.71,286.98" fill="#6038a8" stroke="#3a1a7a" stroke-width="0.6"/>
<rect x="104.7" y="337.4" width="161.6" height="38.2" rx="2" fill="#ffffff" fill-opacity="0.93" stroke="#d0d0d0" stroke-width="0.9"/>
<path d="M107.3 343.9 L124.9 343.9" fill="none" stroke="#2c3045" stroke-width="1.15"/>
<path d="M116.1 339.8V348" stroke="#2c3045" stroke-width="0.75" fill="none"/>
<path d="M114.4 339.8H117.8M114.4 348H117.8" stroke="#2c3045" stroke-width="0.95" fill="none"/>
<circle cx="116.1" cy="343.9" r="1.7" fill="#1f4e9e" stroke="#17285a" stroke-width="0.6"/>
<text x="131.9" y="347.1" font-size="8.3">Epoxy Resin</text>
<path d="M107.3 355.8 L124.9 355.8" fill="none" stroke="#c83e30" stroke-width="1.15" stroke-dasharray="2.9,1.7"/>
<path d="M116.1 351.7V359.9" stroke="#c85040" stroke-width="0.75" fill="none"/>
<path d="M114.4 351.7H117.8M114.4 359.9H117.8" stroke="#c85040" stroke-width="0.95" fill="none"/>
<polygon points="116.1,353.94 117.96,357.19 114.24,357.19" fill="#f06418" stroke="#d04a20" stroke-width="0.6"/>
<text x="131.9" y="359" font-size="8.3">PG88-16</text>
<path d="M107.3 367.7 L124.9 367.7" fill="none" stroke="#1c361c" stroke-width="1.15" stroke-dasharray="5.0,1.4,0.8,1.4"/>
<path d="M116.1 363.6V371.8" stroke="#2a3a2a" stroke-width="0.75" fill="none"/>
<path d="M114.4 363.6H117.8M114.4 371.8H117.8" stroke="#2a3a2a" stroke-width="0.95" fill="none"/>
<rect x="114.66" y="366.26" width="2.89" height="2.89" fill="#1e8c1e" stroke="#174a17" stroke-width="0.6"/>
<text x="131.9" y="370.9" font-size="8.3">PG82-16</text>
<path d="M190.9 343.9 L208.5 343.9" fill="none" stroke="#3a2828" stroke-width="1.05" stroke-dasharray="1.0,1.1"/>
<path d="M199.7 339.8V348" stroke="#5a2a2a" stroke-width="0.75" fill="none"/>
<path d="M198 339.8H201.4M198 348H201.4" stroke="#5a2a2a" stroke-width="0.95" fill="none"/>
<circle cx="199.7" cy="343.9" r="1.61" fill="#8e0e16" stroke="#5a0c0c" stroke-width="0.6"/>
<text x="215.5" y="347.1" font-size="8.3">PG82-22(PM)</text>
<path d="M190.9 355.8 L208.5 355.8" fill="none" stroke="#2a2a35" stroke-width="1.05" stroke-dasharray="2.5,4.3,0.8,4.3"/>
<path d="M199.7 351.7V359.9" stroke="#4a3a80" stroke-width="0.75" fill="none"/>
<path d="M198 351.7H201.4M198 359.9H201.4" stroke="#4a3a80" stroke-width="0.95" fill="none"/>
<polygon points="199.7,353.68 200.89,355.8 199.7,357.93 198.51,355.8" fill="#6038a8" stroke="#3a1a7a" stroke-width="0.6"/>
<text x="215.5" y="359" font-size="8.3">PG88-16(PM)</text>
<line x1="297.5" y1="379.6" x2="541.5" y2="379.6" stroke="#a4a4a4" stroke-width="1.1"/>
<line x1="297.5" y1="346.64" x2="541.5" y2="346.64" stroke="#a4a4a4" stroke-width="1.1"/>
<line x1="297.5" y1="313.68" x2="541.5" y2="313.68" stroke="#a4a4a4" stroke-width="1.1"/>
<line x1="297.5" y1="280.72" x2="541.5" y2="280.72" stroke="#a4a4a4" stroke-width="1.1"/>
<line x1="297.5" y1="247.76" x2="541.5" y2="247.76" stroke="#a4a4a4" stroke-width="1.1"/>
<line x1="297.5" y1="214.8" x2="541.5" y2="214.8" stroke="#a4a4a4" stroke-width="1.1"/>
<line x1="308.59" y1="214.8" x2="308.59" y2="379.6" stroke="#a4a4a4" stroke-width="1.45"/>
<line x1="419.5" y1="214.8" x2="419.5" y2="379.6" stroke="#a4a4a4" stroke-width="1.45"/>
<line x1="530.41" y1="214.8" x2="530.41" y2="379.6" stroke="#a4a4a4" stroke-width="1.45"/>
<rect x="297.5" y="214.8" width="244" height="164.8" fill="none" stroke="#808080" stroke-width="1.5"/>
<line x1="295.5" y1="379.6" x2="297.5" y2="379.6" stroke="#555" stroke-width="1"/>
<text x="293.9" y="383" font-size="9.5" text-anchor="end">30</text>
<line x1="295.5" y1="346.64" x2="297.5" y2="346.64" stroke="#555" stroke-width="1"/>
<text x="293.9" y="350.04" font-size="9.5" text-anchor="end">40</text>
<line x1="295.5" y1="313.68" x2="297.5" y2="313.68" stroke="#555" stroke-width="1"/>
<text x="293.9" y="317.08" font-size="9.5" text-anchor="end">50</text>
<line x1="295.5" y1="280.72" x2="297.5" y2="280.72" stroke="#555" stroke-width="1"/>
<text x="293.9" y="284.12" font-size="9.5" text-anchor="end">60</text>
<line x1="295.5" y1="247.76" x2="297.5" y2="247.76" stroke="#555" stroke-width="1"/>
<text x="293.9" y="251.16" font-size="9.5" text-anchor="end">70</text>
<line x1="295.5" y1="214.8" x2="297.5" y2="214.8" stroke="#555" stroke-width="1"/>
<text x="293.9" y="218.2" font-size="9.5" text-anchor="end">80</text>
<line x1="308.59" y1="379.6" x2="308.59" y2="381.6" stroke="#555" stroke-width="1"/>
<text x="308.59" y="390.9" font-size="9.7" text-anchor="middle">HFST</text>
<line x1="419.5" y1="379.6" x2="419.5" y2="381.6" stroke="#555" stroke-width="1"/>
<text x="419.5" y="390.9" font-size="9.7" text-anchor="middle">Medium</text>
<line x1="530.41" y1="379.6" x2="530.41" y2="381.6" stroke="#555" stroke-width="1"/>
<text x="530.41" y="390.9" font-size="9.7" text-anchor="middle">Coarse</text>
<text x="419.5" y="211.6" font-size="10.7" text-anchor="middle">Rhyolite (Post-polish)</text>
<path d="M308.59 320.27 L419.5 293.57 L530.41 316.98" fill="none" stroke="#2c3045" stroke-width="1.15"/>
<path d="M308.59 314.34V326.2" stroke="#2c3045" stroke-width="0.6" stroke-opacity="0.85" fill="none"/>
<path d="M306.89 314.34H310.29M306.89 326.2H310.29" stroke="#2c3045" stroke-width="0.95" fill="none"/>
<path d="M419.5 286.98V300.17" stroke="#2c3045" stroke-width="0.6" stroke-opacity="0.85" fill="none"/>
<path d="M417.8 286.98H421.2M417.8 300.17H421.2" stroke="#2c3045" stroke-width="0.95" fill="none"/>
<path d="M530.41 310.38V323.57" stroke="#2c3045" stroke-width="0.6" stroke-opacity="0.85" fill="none"/>
<path d="M528.71 310.38H532.11M528.71 323.57H532.11" stroke="#2c3045" stroke-width="0.95" fill="none"/>
<circle cx="308.59" cy="320.27" r="1.7" fill="#1f4e9e" stroke="#17285a" stroke-width="0.6"/>
<circle cx="419.5" cy="293.57" r="1.7" fill="#1f4e9e" stroke="#17285a" stroke-width="0.6"/>
<circle cx="530.41" cy="316.98" r="1.7" fill="#1f4e9e" stroke="#17285a" stroke-width="0.6"/>
<path d="M308.59 305.77 L419.5 316.32 L530.41 332.14" fill="none" stroke="#c83e30" stroke-width="1.15" stroke-dasharray="2.9,1.7"/>
<path d="M308.59 300.17V311.37" stroke="#c85040" stroke-width="0.6" stroke-opacity="0.85" fill="none"/>
<path d="M306.89 300.17H310.29M306.89 311.37H310.29" stroke="#c85040" stroke-width="0.95" fill="none"/>
<path d="M419.5 308.41V324.23" stroke="#c85040" stroke-width="0.6" stroke-opacity="0.85" fill="none"/>
<path d="M417.8 308.41H421.2M417.8 324.23H421.2" stroke="#c85040" stroke-width="0.95" fill="none"/>
<path d="M530.41 325.55V338.73" stroke="#c85040" stroke-width="0.6" stroke-opacity="0.85" fill="none"/>
<path d="M528.71 325.55H532.11M528.71 338.73H532.11" stroke="#c85040" stroke-width="0.95" fill="none"/>
<polygon points="308.59,303.91 310.45,307.16 306.73,307.16" fill="#f06418" stroke="#d04a20" stroke-width="0.6"/>
<polygon points="419.5,314.46 421.36,317.71 417.64,317.71" fill="#f06418" stroke="#d04a20" stroke-width="0.6"/>
<polygon points="530.41,330.28 532.27,333.53 528.55,333.53" fill="#f06418" stroke="#d04a20" stroke-width="0.6"/>
<path d="M308.59 328.51 L419.5 328.51 L530.41 319.94" fill="none" stroke="#1c361c" stroke-width="1.15" stroke-dasharray="5.0,1.4,0.8,1.4"/>
<path d="M308.59 321.92V335.1" stroke="#2a3a2a" stroke-width="0.6" stroke-opacity="0.85" fill="none"/>
<path d="M306.89 321.92H310.29M306.89 335.1H310.29" stroke="#2a3a2a" stroke-width="0.95" fill="none"/>
<path d="M419.5 321.92V335.1" stroke="#2a3a2a" stroke-width="0.6" stroke-opacity="0.85" fill="none"/>
<path d="M417.8 321.92H421.2M417.8 335.1H421.2" stroke="#2a3a2a" stroke-width="0.95" fill="none"/>
<path d="M530.41 313.35V326.53" stroke="#2a3a2a" stroke-width="0.6" stroke-opacity="0.85" fill="none"/>
<path d="M528.71 313.35H532.11M528.71 326.53H532.11" stroke="#2a3a2a" stroke-width="0.95" fill="none"/>
<rect x="307.15" y="327.07" width="2.89" height="2.89" fill="#1e8c1e" stroke="#174a17" stroke-width="0.6"/>
<rect x="418.06" y="327.07" width="2.89" height="2.89" fill="#1e8c1e" stroke="#174a17" stroke-width="0.6"/>
<rect x="528.96" y="318.5" width="2.89" height="2.89" fill="#1e8c1e" stroke="#174a17" stroke-width="0.6"/>
<path d="M308.59 346.64 L419.5 333.13 L530.41 342.68" fill="none" stroke="#3a2828" stroke-width="1.05" stroke-dasharray="1.0,1.1"/>
<path d="M308.59 340.71V352.57" stroke="#5a2a2a" stroke-width="0.6" stroke-opacity="0.85" fill="none"/>
<path d="M306.89 340.71H310.29M306.89 352.57H310.29" stroke="#5a2a2a" stroke-width="0.95" fill="none"/>
<path d="M419.5 326.53V339.72" stroke="#5a2a2a" stroke-width="0.6" stroke-opacity="0.85" fill="none"/>
<path d="M417.8 326.53H421.2M417.8 339.72H421.2" stroke="#5a2a2a" stroke-width="0.95" fill="none"/>
<path d="M530.41 336.75V348.62" stroke="#5a2a2a" stroke-width="0.6" stroke-opacity="0.85" fill="none"/>
<path d="M528.71 336.75H532.11M528.71 348.62H532.11" stroke="#5a2a2a" stroke-width="0.95" fill="none"/>
<circle cx="308.59" cy="346.64" r="1.61" fill="#8e0e16" stroke="#5a0c0c" stroke-width="0.6"/>
<circle cx="419.5" cy="333.13" r="1.61" fill="#8e0e16" stroke="#5a0c0c" stroke-width="0.6"/>
<circle cx="530.41" cy="342.68" r="1.61" fill="#8e0e16" stroke="#5a0c0c" stroke-width="0.6"/>
<path d="M308.59 333.79 L419.5 336.75 L530.41 347.3" fill="none" stroke="#2a2a35" stroke-width="1.05" stroke-dasharray="2.5,4.3,0.8,4.3"/>
<path d="M308.59 327.19V340.38" stroke="#4a3a80" stroke-width="0.6" stroke-opacity="0.85" fill="none"/>
<path d="M306.89 327.19H310.29M306.89 340.38H310.29" stroke="#4a3a80" stroke-width="0.95" fill="none"/>
<path d="M419.5 329.83V343.67" stroke="#4a3a80" stroke-width="0.6" stroke-opacity="0.85" fill="none"/>
<path d="M417.8 329.83H421.2M417.8 343.67H421.2" stroke="#4a3a80" stroke-width="0.95" fill="none"/>
<path d="M530.41 342.03V352.57" stroke="#4a3a80" stroke-width="0.6" stroke-opacity="0.85" fill="none"/>
<path d="M528.71 342.03H532.11M528.71 352.57H532.11" stroke="#4a3a80" stroke-width="0.95" fill="none"/>
<polygon points="308.59,331.66 309.78,333.79 308.59,335.91 307.4,333.79" fill="#6038a8" stroke="#3a1a7a" stroke-width="0.6"/>
<polygon points="419.5,334.63 420.69,336.75 419.5,338.88 418.31,336.75" fill="#6038a8" stroke="#3a1a7a" stroke-width="0.6"/>
<polygon points="530.41,345.17 531.6,347.3 530.41,349.42 529.22,347.3" fill="#6038a8" stroke="#3a1a7a" stroke-width="0.6"/>
<rect x="376.4" y="218.6" width="161.6" height="38.2" rx="2" fill="#ffffff" fill-opacity="0.93" stroke="#d0d0d0" stroke-width="0.9"/>
<path d="M379 225.1 L396.6 225.1" fill="none" stroke="#2c3045" stroke-width="1.15"/>
<path d="M387.8 221V229.2" stroke="#2c3045" stroke-width="0.75" fill="none"/>
<path d="M386.1 221H389.5M386.1 229.2H389.5" stroke="#2c3045" stroke-width="0.95" fill="none"/>
<circle cx="387.8" cy="225.1" r="1.7" fill="#1f4e9e" stroke="#17285a" stroke-width="0.6"/>
<text x="403.6" y="228.3" font-size="8.3">Epoxy Resin</text>
<path d="M379 237 L396.6 237" fill="none" stroke="#c83e30" stroke-width="1.15" stroke-dasharray="2.9,1.7"/>
<path d="M387.8 232.9V241.1" stroke="#c85040" stroke-width="0.75" fill="none"/>
<path d="M386.1 232.9H389.5M386.1 241.1H389.5" stroke="#c85040" stroke-width="0.95" fill="none"/>
<polygon points="387.8,235.14 389.66,238.39 385.94,238.39" fill="#f06418" stroke="#d04a20" stroke-width="0.6"/>
<text x="403.6" y="240.2" font-size="8.3">PG88-16</text>
<path d="M379 248.9 L396.6 248.9" fill="none" stroke="#1c361c" stroke-width="1.15" stroke-dasharray="5.0,1.4,0.8,1.4"/>
<path d="M387.8 244.8V253" stroke="#2a3a2a" stroke-width="0.75" fill="none"/>
<path d="M386.1 244.8H389.5M386.1 253H389.5" stroke="#2a3a2a" stroke-width="0.95" fill="none"/>
<rect x="386.36" y="247.46" width="2.89" height="2.89" fill="#1e8c1e" stroke="#174a17" stroke-width="0.6"/>
<text x="403.6" y="252.1" font-size="8.3">PG82-16</text>
<path d="M462.6 225.1 L480.2 225.1" fill="none" stroke="#3a2828" stroke-width="1.05" stroke-dasharray="1.0,1.1"/>
<path d="M471.4 221V229.2" stroke="#5a2a2a" stroke-width="0.75" fill="none"/>
<path d="M469.7 221H473.1M469.7 229.2H473.1" stroke="#5a2a2a" stroke-width="0.95" fill="none"/>
<circle cx="471.4" cy="225.1" r="1.61" fill="#8e0e16" stroke="#5a0c0c" stroke-width="0.6"/>
<text x="487.2" y="228.3" font-size="8.3">PG82-22(PM)</text>
<path d="M462.6 237 L480.2 237" fill="none" stroke="#2a2a35" stroke-width="1.05" stroke-dasharray="2.5,4.3,0.8,4.3"/>
<path d="M471.4 232.9V241.1" stroke="#4a3a80" stroke-width="0.75" fill="none"/>
<path d="M469.7 232.9H473.1M469.7 241.1H473.1" stroke="#4a3a80" stroke-width="0.95" fill="none"/>
<polygon points="471.4,234.88 472.59,237 471.4,239.13 470.21,237" fill="#6038a8" stroke="#3a1a7a" stroke-width="0.6"/>
<text x="487.2" y="240.2" font-size="8.3">PG88-16(PM)</text>
<line x1="25.9" y1="578.2" x2="270" y2="578.2" stroke="#a4a4a4" stroke-width="1.1"/>
<line x1="25.9" y1="545.24" x2="270" y2="545.24" stroke="#a4a4a4" stroke-width="1.1"/>
<line x1="25.9" y1="512.28" x2="270" y2="512.28" stroke="#a4a4a4" stroke-width="1.1"/>
<line x1="25.9" y1="479.32" x2="270" y2="479.32" stroke="#a4a4a4" stroke-width="1.1"/>
<line x1="25.9" y1="446.36" x2="270" y2="446.36" stroke="#a4a4a4" stroke-width="1.1"/>
<line x1="25.9" y1="413.4" x2="270" y2="413.4" stroke="#a4a4a4" stroke-width="1.1"/>
<line x1="37" y1="413.4" x2="37" y2="578.2" stroke="#a4a4a4" stroke-width="1.45"/>
<line x1="147.95" y1="413.4" x2="147.95" y2="578.2" stroke="#a4a4a4" stroke-width="1.45"/>
<line x1="258.9" y1="413.4" x2="258.9" y2="578.2" stroke="#a4a4a4" stroke-width="1.45"/>
<rect x="25.9" y="413.4" width="244.1" height="164.8" fill="none" stroke="#808080" stroke-width="1.5"/>
<line x1="23.9" y1="578.2" x2="25.9" y2="578.2" stroke="#555" stroke-width="1"/>
<text x="22.3" y="581.6" font-size="9.5" text-anchor="end">30</text>
<line x1="23.9" y1="545.24" x2="25.9" y2="545.24" stroke="#555" stroke-width="1"/>
<text x="22.3" y="548.64" font-size="9.5" text-anchor="end">40</text>
<line x1="23.9" y1="512.28" x2="25.9" y2="512.28" stroke="#555" stroke-width="1"/>
<text x="22.3" y="515.68" font-size="9.5" text-anchor="end">50</text>
<line x1="23.9" y1="479.32" x2="25.9" y2="479.32" stroke="#555" stroke-width="1"/>
<text x="22.3" y="482.72" font-size="9.5" text-anchor="end">60</text>
<line x1="23.9" y1="446.36" x2="25.9" y2="446.36" stroke="#555" stroke-width="1"/>
<text x="22.3" y="449.76" font-size="9.5" text-anchor="end">70</text>
<line x1="23.9" y1="413.4" x2="25.9" y2="413.4" stroke="#555" stroke-width="1"/>
<text x="22.3" y="416.8" font-size="9.5" text-anchor="end">80</text>
<line x1="37" y1="578.2" x2="37" y2="580.2" stroke="#555" stroke-width="1"/>
<text x="37" y="589.5" font-size="9.7" text-anchor="middle">HFST</text>
<line x1="147.95" y1="578.2" x2="147.95" y2="580.2" stroke="#555" stroke-width="1"/>
<text x="147.95" y="589.5" font-size="9.7" text-anchor="middle">Medium</text>
<line x1="258.9" y1="578.2" x2="258.9" y2="580.2" stroke="#555" stroke-width="1"/>
<text x="258.9" y="589.5" font-size="9.7" text-anchor="middle">Coarse</text>
<text x="147.95" y="410.2" font-size="10.7" text-anchor="middle">Meramec (Pre-polish)</text>
<text x="0" y="0" font-size="8.5" text-anchor="middle" transform="translate(9.4 495.8) rotate(-90)">BPN</text>
<path d="M37 473.39 L147.95 459.21 L258.9 498.77" fill="none" stroke="#2c3045" stroke-width="1.15"/>
<path d="M37 467.45V479.32" stroke="#2c3045" stroke-width="0.6" stroke-opacity="0.85" fill="none"/>
<path d="M35.3 467.45H38.7M35.3 479.32H38.7" stroke="#2c3045" stroke-width="0.95" fill="none"/>
<path d="M147.95 451.96V466.47" stroke="#2c3045" stroke-width="0.6" stroke-opacity="0.85" fill="none"/>
<path d="M146.25 451.96H149.65M146.25 466.47H149.65" stroke="#2c3045" stroke-width="0.95" fill="none"/>
<path d="M258.9 492.5V505.03" stroke="#2c3045" stroke-width="0.6" stroke-opacity="0.85" fill="none"/>
<path d="M257.2 492.5H260.6M257.2 505.03H260.6" stroke="#2c3045" stroke-width="0.95" fill="none"/>
<circle cx="37" cy="473.39" r="1.7" fill="#1f4e9e" stroke="#17285a" stroke-width="0.6"/>
<circle cx="147.95" cy="459.21" r="1.7" fill="#1f4e9e" stroke="#17285a" stroke-width="0.6"/>
<circle cx="258.9" cy="498.77" r="1.7" fill="#1f4e9e" stroke="#17285a" stroke-width="0.6"/>
<path d="M37 471.08 L147.95 502.06 L258.9 519.53" fill="none" stroke="#c83e30" stroke-width="1.15" stroke-dasharray="2.9,1.7"/>
<path d="M37 463.83V478.33" stroke="#c85040" stroke-width="0.6" stroke-opacity="0.85" fill="none"/>
<path d="M35.3 463.83H38.7M35.3 478.33H38.7" stroke="#c85040" stroke-width="0.95" fill="none"/>
<path d="M147.95 496.46V507.67" stroke="#c85040" stroke-width="0.6" stroke-opacity="0.85" fill="none"/>
<path d="M146.25 496.46H149.65M146.25 507.67H149.65" stroke="#c85040" stroke-width="0.95" fill="none"/>
<path d="M258.9 512.94V526.12" stroke="#c85040" stroke-width="0.6" stroke-opacity="0.85" fill="none"/>
<path d="M257.2 512.94H260.6M257.2 526.12H260.6" stroke="#c85040" stroke-width="0.95" fill="none"/>
<polygon points="37,469.22 38.85,472.47 35.14,472.47" fill="#f06418" stroke="#d04a20" stroke-width="0.6"/>
<polygon points="147.95,500.21 149.81,503.46 146.09,503.46" fill="#f06418" stroke="#d04a20" stroke-width="0.6"/>
<polygon points="258.9,517.67 260.76,520.92 257.05,520.92" fill="#f06418" stroke="#d04a20" stroke-width="0.6"/>
<path d="M37 484.26 L147.95 479.32 L258.9 514.92" fill="none" stroke="#1c361c" stroke-width="1.15" stroke-dasharray="5.0,1.4,0.8,1.4"/>
<path d="M37 477.67V490.86" stroke="#2a3a2a" stroke-width="0.6" stroke-opacity="0.85" fill="none"/>
<path d="M35.3 477.67H38.7M35.3 490.86H38.7" stroke="#2a3a2a" stroke-width="0.95" fill="none"/>
<path d="M147.95 472.73V485.91" stroke="#2a3a2a" stroke-width="0.6" stroke-opacity="0.85" fill="none"/>
<path d="M146.25 472.73H149.65M146.25 485.91H149.65" stroke="#2a3a2a" stroke-width="0.95" fill="none"/>
<path d="M258.9 508.32V521.51" stroke="#2a3a2a" stroke-width="0.6" stroke-opacity="0.85" fill="none"/>
<path d="M257.2 508.32H260.6M257.2 521.51H260.6" stroke="#2a3a2a" stroke-width="0.95" fill="none"/>
<rect x="35.55" y="482.82" width="2.89" height="2.89" fill="#1e8c1e" stroke="#174a17" stroke-width="0.6"/>
<rect x="146.5" y="477.88" width="2.89" height="2.89" fill="#1e8c1e" stroke="#174a17" stroke-width="0.6"/>
<rect x="257.46" y="513.47" width="2.89" height="2.89" fill="#1e8c1e" stroke="#174a17" stroke-width="0.6"/>
<path d="M37 482.95 L147.95 478.66 L258.9 529.09" fill="none" stroke="#3a2828" stroke-width="1.05" stroke-dasharray="1.0,1.1"/>
<path d="M37 474.71V491.19" stroke="#5a2a2a" stroke-width="0.6" stroke-opacity="0.85" fill="none"/>
<path d="M35.3 474.71H38.7M35.3 491.19H38.7" stroke="#5a2a2a" stroke-width="0.95" fill="none"/>
<path d="M147.95 472.07V485.25" stroke="#5a2a2a" stroke-width="0.6" stroke-opacity="0.85" fill="none"/>
<path d="M146.25 472.07H149.65M146.25 485.25H149.65" stroke="#5a2a2a" stroke-width="0.95" fill="none"/>
<path d="M258.9 523.49V534.69" stroke="#5a2a2a" stroke-width="0.6" stroke-opacity="0.85" fill="none"/>
<path d="M257.2 523.49H260.6M257.2 534.69H260.6" stroke="#5a2a2a" stroke-width="0.95" fill="none"/>
<circle cx="37" cy="482.95" r="1.61" fill="#8e0e16" stroke="#5a0c0c" stroke-width="0.6"/>
<circle cx="147.95" cy="478.66" r="1.61" fill="#8e0e16" stroke="#5a0c0c" stroke-width="0.6"/>
<circle cx="258.9" cy="529.09" r="1.61" fill="#8e0e16" stroke="#5a0c0c" stroke-width="0.6"/>
<path d="M37 479.32 L147.95 482.95 L258.9 525.46" fill="none" stroke="#2a2a35" stroke-width="1.05" stroke-dasharray="2.5,4.3,0.8,4.3"/>
<path d="M37 472.73V485.91" stroke="#4a3a80" stroke-width="0.6" stroke-opacity="0.85" fill="none"/>
<path d="M35.3 472.73H38.7M35.3 485.91H38.7" stroke="#4a3a80" stroke-width="0.95" fill="none"/>
<path d="M147.95 477.01V488.88" stroke="#4a3a80" stroke-width="0.6" stroke-opacity="0.85" fill="none"/>
<path d="M146.25 477.01H149.65M146.25 488.88H149.65" stroke="#4a3a80" stroke-width="0.95" fill="none"/>
<path d="M258.9 518.87V532.06" stroke="#4a3a80" stroke-width="0.6" stroke-opacity="0.85" fill="none"/>
<path d="M257.2 518.87H260.6M257.2 532.06H260.6" stroke="#4a3a80" stroke-width="0.95" fill="none"/>
<polygon points="37,477.19 38.19,479.32 37,481.44 35.81,479.32" fill="#6038a8" stroke="#3a1a7a" stroke-width="0.6"/>
<polygon points="147.95,480.82 149.14,482.95 147.95,485.07 146.76,482.95" fill="#6038a8" stroke="#3a1a7a" stroke-width="0.6"/>
<polygon points="258.9,523.34 260.09,525.46 258.9,527.59 257.71,525.46" fill="#6038a8" stroke="#3a1a7a" stroke-width="0.6"/>
<rect x="104.7" y="536" width="161.6" height="38.2" rx="2" fill="#ffffff" fill-opacity="0.93" stroke="#d0d0d0" stroke-width="0.9"/>
<path d="M107.3 542.5 L124.9 542.5" fill="none" stroke="#2c3045" stroke-width="1.15"/>
<path d="M116.1 538.4V546.6" stroke="#2c3045" stroke-width="0.75" fill="none"/>
<path d="M114.4 538.4H117.8M114.4 546.6H117.8" stroke="#2c3045" stroke-width="0.95" fill="none"/>
<circle cx="116.1" cy="542.5" r="1.7" fill="#1f4e9e" stroke="#17285a" stroke-width="0.6"/>
<text x="131.9" y="545.7" font-size="8.3">Epoxy Resin</text>
<path d="M107.3 554.4 L124.9 554.4" fill="none" stroke="#c83e30" stroke-width="1.15" stroke-dasharray="2.9,1.7"/>
<path d="M116.1 550.3V558.5" stroke="#c85040" stroke-width="0.75" fill="none"/>
<path d="M114.4 550.3H117.8M114.4 558.5H117.8" stroke="#c85040" stroke-width="0.95" fill="none"/>
<polygon points="116.1,552.54 117.96,555.79 114.24,555.79" fill="#f06418" stroke="#d04a20" stroke-width="0.6"/>
<text x="131.9" y="557.6" font-size="8.3">PG88-16</text>
<path d="M107.3 566.3 L124.9 566.3" fill="none" stroke="#1c361c" stroke-width="1.15" stroke-dasharray="5.0,1.4,0.8,1.4"/>
<path d="M116.1 562.2V570.4" stroke="#2a3a2a" stroke-width="0.75" fill="none"/>
<path d="M114.4 562.2H117.8M114.4 570.4H117.8" stroke="#2a3a2a" stroke-width="0.95" fill="none"/>
<rect x="114.66" y="564.85" width="2.89" height="2.89" fill="#1e8c1e" stroke="#174a17" stroke-width="0.6"/>
<text x="131.9" y="569.5" font-size="8.3">PG82-16</text>
<path d="M190.9 542.5 L208.5 542.5" fill="none" stroke="#3a2828" stroke-width="1.05" stroke-dasharray="1.0,1.1"/>
<path d="M199.7 538.4V546.6" stroke="#5a2a2a" stroke-width="0.75" fill="none"/>
<path d="M198 538.4H201.4M198 546.6H201.4" stroke="#5a2a2a" stroke-width="0.95" fill="none"/>
<circle cx="199.7" cy="542.5" r="1.61" fill="#8e0e16" stroke="#5a0c0c" stroke-width="0.6"/>
<text x="215.5" y="545.7" font-size="8.3">PG82-22(PM)</text>
<path d="M190.9 554.4 L208.5 554.4" fill="none" stroke="#2a2a35" stroke-width="1.05" stroke-dasharray="2.5,4.3,0.8,4.3"/>
<path d="M199.7 550.3V558.5" stroke="#4a3a80" stroke-width="0.75" fill="none"/>
<path d="M198 550.3H201.4M198 558.5H201.4" stroke="#4a3a80" stroke-width="0.95" fill="none"/>
<polygon points="199.7,552.27 200.89,554.4 199.7,556.52 198.51,554.4" fill="#6038a8" stroke="#3a1a7a" stroke-width="0.6"/>
<text x="215.5" y="557.6" font-size="8.3">PG88-16(PM)</text>
<line x1="297.5" y1="578.2" x2="541.5" y2="578.2" stroke="#a4a4a4" stroke-width="1.1"/>
<line x1="297.5" y1="545.24" x2="541.5" y2="545.24" stroke="#a4a4a4" stroke-width="1.1"/>
<line x1="297.5" y1="512.28" x2="541.5" y2="512.28" stroke="#a4a4a4" stroke-width="1.1"/>
<line x1="297.5" y1="479.32" x2="541.5" y2="479.32" stroke="#a4a4a4" stroke-width="1.1"/>
<line x1="297.5" y1="446.36" x2="541.5" y2="446.36" stroke="#a4a4a4" stroke-width="1.1"/>
<line x1="297.5" y1="413.4" x2="541.5" y2="413.4" stroke="#a4a4a4" stroke-width="1.1"/>
<line x1="308.59" y1="413.4" x2="308.59" y2="578.2" stroke="#a4a4a4" stroke-width="1.45"/>
<line x1="419.5" y1="413.4" x2="419.5" y2="578.2" stroke="#a4a4a4" stroke-width="1.45"/>
<line x1="530.41" y1="413.4" x2="530.41" y2="578.2" stroke="#a4a4a4" stroke-width="1.45"/>
<rect x="297.5" y="413.4" width="244" height="164.8" fill="none" stroke="#808080" stroke-width="1.5"/>
<line x1="295.5" y1="578.2" x2="297.5" y2="578.2" stroke="#555" stroke-width="1"/>
<text x="293.9" y="581.6" font-size="9.5" text-anchor="end">30</text>
<line x1="295.5" y1="545.24" x2="297.5" y2="545.24" stroke="#555" stroke-width="1"/>
<text x="293.9" y="548.64" font-size="9.5" text-anchor="end">40</text>
<line x1="295.5" y1="512.28" x2="297.5" y2="512.28" stroke="#555" stroke-width="1"/>
<text x="293.9" y="515.68" font-size="9.5" text-anchor="end">50</text>
<line x1="295.5" y1="479.32" x2="297.5" y2="479.32" stroke="#555" stroke-width="1"/>
<text x="293.9" y="482.72" font-size="9.5" text-anchor="end">60</text>
<line x1="295.5" y1="446.36" x2="297.5" y2="446.36" stroke="#555" stroke-width="1"/>
<text x="293.9" y="449.76" font-size="9.5" text-anchor="end">70</text>
<line x1="295.5" y1="413.4" x2="297.5" y2="413.4" stroke="#555" stroke-width="1"/>
<text x="293.9" y="416.8" font-size="9.5" text-anchor="end">80</text>
<line x1="308.59" y1="578.2" x2="308.59" y2="580.2" stroke="#555" stroke-width="1"/>
<text x="308.59" y="589.5" font-size="9.7" text-anchor="middle">HFST</text>
<line x1="419.5" y1="578.2" x2="419.5" y2="580.2" stroke="#555" stroke-width="1"/>
<text x="419.5" y="589.5" font-size="9.7" text-anchor="middle">Medium</text>
<line x1="530.41" y1="578.2" x2="530.41" y2="580.2" stroke="#555" stroke-width="1"/>
<text x="530.41" y="589.5" font-size="9.7" text-anchor="middle">Coarse</text>
<text x="419.5" y="410.2" font-size="10.7" text-anchor="middle">Meramec (Post-polish)</text>
<path d="M308.59 495.47 L419.5 492.5 L530.41 524.8" fill="none" stroke="#2c3045" stroke-width="1.15"/>
<path d="M308.59 490.2V500.74" stroke="#2c3045" stroke-width="0.6" stroke-opacity="0.85" fill="none"/>
<path d="M306.89 490.2H310.29M306.89 500.74H310.29" stroke="#2c3045" stroke-width="0.95" fill="none"/>
<path d="M419.5 485.91V499.1" stroke="#2c3045" stroke-width="0.6" stroke-opacity="0.85" fill="none"/>
<path d="M417.8 485.91H421.2M417.8 499.1H421.2" stroke="#2c3045" stroke-width="0.95" fill="none"/>
<path d="M530.41 519.2V530.41" stroke="#2c3045" stroke-width="0.6" stroke-opacity="0.85" fill="none"/>
<path d="M528.71 519.2H532.11M528.71 530.41H532.11" stroke="#2c3045" stroke-width="0.95" fill="none"/>
<circle cx="308.59" cy="495.47" r="1.7" fill="#1f4e9e" stroke="#17285a" stroke-width="0.6"/>
<circle cx="419.5" cy="492.5" r="1.7" fill="#1f4e9e" stroke="#17285a" stroke-width="0.6"/>
<circle cx="530.41" cy="524.8" r="1.7" fill="#1f4e9e" stroke="#17285a" stroke-width="0.6"/>
<path d="M308.59 503.05 L419.5 533.37 L530.41 527.77" fill="none" stroke="#c83e30" stroke-width="1.15" stroke-dasharray="2.9,1.7"/>
<path d="M308.59 497.78V508.32" stroke="#c85040" stroke-width="0.6" stroke-opacity="0.85" fill="none"/>
<path d="M306.89 497.78H310.29M306.89 508.32H310.29" stroke="#c85040" stroke-width="0.95" fill="none"/>
<path d="M419.5 528.1V538.65" stroke="#c85040" stroke-width="0.6" stroke-opacity="0.85" fill="none"/>
<path d="M417.8 528.1H421.2M417.8 538.65H421.2" stroke="#c85040" stroke-width="0.95" fill="none"/>
<path d="M530.41 521.18V534.36" stroke="#c85040" stroke-width="0.6" stroke-opacity="0.85" fill="none"/>
<path d="M528.71 521.18H532.11M528.71 534.36H532.11" stroke="#c85040" stroke-width="0.95" fill="none"/>
<polygon points="308.59,501.19 310.45,504.44 306.73,504.44" fill="#f06418" stroke="#d04a20" stroke-width="0.6"/>
<polygon points="419.5,531.52 421.36,534.77 417.64,534.77" fill="#f06418" stroke="#d04a20" stroke-width="0.6"/>
<polygon points="530.41,525.91 532.27,529.16 528.55,529.16" fill="#f06418" stroke="#d04a20" stroke-width="0.6"/>
<path d="M308.59 500.74 L419.5 535.35 L530.41 535.35" fill="none" stroke="#1c361c" stroke-width="1.15" stroke-dasharray="5.0,1.4,0.8,1.4"/>
<path d="M308.59 495.47V506.02" stroke="#2a3a2a" stroke-width="0.6" stroke-opacity="0.85" fill="none"/>
<path d="M306.89 495.47H310.29M306.89 506.02H310.29" stroke="#2a3a2a" stroke-width="0.95" fill="none"/>
<path d="M419.5 528.43V542.27" stroke="#2a3a2a" stroke-width="0.6" stroke-opacity="0.85" fill="none"/>
<path d="M417.8 528.43H421.2M417.8 542.27H421.2" stroke="#2a3a2a" stroke-width="0.95" fill="none"/>
<path d="M530.41 529.42V541.28" stroke="#2a3a2a" stroke-width="0.6" stroke-opacity="0.85" fill="none"/>
<path d="M528.71 529.42H532.11M528.71 541.28H532.11" stroke="#2a3a2a" stroke-width="0.95" fill="none"/>
<rect x="307.15" y="499.3" width="2.89" height="2.89" fill="#1e8c1e" stroke="#174a17" stroke-width="0.6"/>
<rect x="418.06" y="533.91" width="2.89" height="2.89" fill="#1e8c1e" stroke="#174a17" stroke-width="0.6"/>
<rect x="528.96" y="533.91" width="2.89" height="2.89" fill="#1e8c1e" stroke="#174a17" stroke-width="0.6"/>
<path d="M308.59 529.09 L419.5 505.36 L530.41 558.42" fill="none" stroke="#3a2828" stroke-width="1.05" stroke-dasharray="1.0,1.1"/>
<path d="M308.59 522.5V535.68" stroke="#5a2a2a" stroke-width="0.6" stroke-opacity="0.85" fill="none"/>
<path d="M306.89 522.5H310.29M306.89 535.68H310.29" stroke="#5a2a2a" stroke-width="0.95" fill="none"/>
<path d="M419.5 498.77V511.95" stroke="#5a2a2a" stroke-width="0.6" stroke-opacity="0.85" fill="none"/>
<path d="M417.8 498.77H421.2M417.8 511.95H421.2" stroke="#5a2a2a" stroke-width="0.95" fill="none"/>
<path d="M530.41 551.5V565.35" stroke="#5a2a2a" stroke-width="0.6" stroke-opacity="0.85" fill="none"/>
<path d="M528.71 551.5H532.11M528.71 565.35H532.11" stroke="#5a2a2a" stroke-width="0.95" fill="none"/>
<circle cx="308.59" cy="529.09" r="1.61" fill="#8e0e16" stroke="#5a0c0c" stroke-width="0.6"/>
<circle cx="419.5" cy="505.36" r="1.61" fill="#8e0e16" stroke="#5a0c0c" stroke-width="0.6"/>
<circle cx="530.41" cy="558.42" r="1.61" fill="#8e0e16" stroke="#5a0c0c" stroke-width="0.6"/>
<path d="M308.59 535.02 L419.5 508.98 L530.41 548.54" fill="none" stroke="#2a2a35" stroke-width="1.05" stroke-dasharray="2.5,4.3,0.8,4.3"/>
<path d="M308.59 529.75V540.3" stroke="#4a3a80" stroke-width="0.6" stroke-opacity="0.85" fill="none"/>
<path d="M306.89 529.75H310.29M306.89 540.3H310.29" stroke="#4a3a80" stroke-width="0.95" fill="none"/>
<path d="M419.5 501.73V516.24" stroke="#4a3a80" stroke-width="0.6" stroke-opacity="0.85" fill="none"/>
<path d="M417.8 501.73H421.2M417.8 516.24H421.2" stroke="#4a3a80" stroke-width="0.95" fill="none"/>
<path d="M530.41 541.94V555.13" stroke="#4a3a80" stroke-width="0.6" stroke-opacity="0.85" fill="none"/>
<path d="M528.71 541.94H532.11M528.71 555.13H532.11" stroke="#4a3a80" stroke-width="0.95" fill="none"/>
<polygon points="308.59,532.9 309.78,535.02 308.59,537.15 307.4,535.02" fill="#6038a8" stroke="#3a1a7a" stroke-width="0.6"/>
<polygon points="419.5,506.86 420.69,508.98 419.5,511.11 418.31,508.98" fill="#6038a8" stroke="#3a1a7a" stroke-width="0.6"/>
<polygon points="530.41,546.41 531.6,548.54 530.41,550.66 529.22,548.54" fill="#6038a8" stroke="#3a1a7a" stroke-width="0.6"/>
<rect x="376.4" y="417.2" width="161.6" height="38.2" rx="2" fill="#ffffff" fill-opacity="0.93" stroke="#d0d0d0" stroke-width="0.9"/>
<path d="M379 423.7 L396.6 423.7" fill="none" stroke="#2c3045" stroke-width="1.15"/>
<path d="M387.8 419.6V427.8" stroke="#2c3045" stroke-width="0.75" fill="none"/>
<path d="M386.1 419.6H389.5M386.1 427.8H389.5" stroke="#2c3045" stroke-width="0.95" fill="none"/>
<circle cx="387.8" cy="423.7" r="1.7" fill="#1f4e9e" stroke="#17285a" stroke-width="0.6"/>
<text x="403.6" y="426.9" font-size="8.3">Epoxy Resin</text>
<path d="M379 435.6 L396.6 435.6" fill="none" stroke="#c83e30" stroke-width="1.15" stroke-dasharray="2.9,1.7"/>
<path d="M387.8 431.5V439.7" stroke="#c85040" stroke-width="0.75" fill="none"/>
<path d="M386.1 431.5H389.5M386.1 439.7H389.5" stroke="#c85040" stroke-width="0.95" fill="none"/>
<polygon points="387.8,433.74 389.66,436.99 385.94,436.99" fill="#f06418" stroke="#d04a20" stroke-width="0.6"/>
<text x="403.6" y="438.8" font-size="8.3">PG88-16</text>
<path d="M379 447.5 L396.6 447.5" fill="none" stroke="#1c361c" stroke-width="1.15" stroke-dasharray="5.0,1.4,0.8,1.4"/>
<path d="M387.8 443.4V451.6" stroke="#2a3a2a" stroke-width="0.75" fill="none"/>
<path d="M386.1 443.4H389.5M386.1 451.6H389.5" stroke="#2a3a2a" stroke-width="0.95" fill="none"/>
<rect x="386.36" y="446.06" width="2.89" height="2.89" fill="#1e8c1e" stroke="#174a17" stroke-width="0.6"/>
<text x="403.6" y="450.7" font-size="8.3">PG82-16</text>
<path d="M462.6 423.7 L480.2 423.7" fill="none" stroke="#3a2828" stroke-width="1.05" stroke-dasharray="1.0,1.1"/>
<path d="M471.4 419.6V427.8" stroke="#5a2a2a" stroke-width="0.75" fill="none"/>
<path d="M469.7 419.6H473.1M469.7 427.8H473.1" stroke="#5a2a2a" stroke-width="0.95" fill="none"/>
<circle cx="471.4" cy="423.7" r="1.61" fill="#8e0e16" stroke="#5a0c0c" stroke-width="0.6"/>
<text x="487.2" y="426.9" font-size="8.3">PG82-22(PM)</text>
<path d="M462.6 435.6 L480.2 435.6" fill="none" stroke="#2a2a35" stroke-width="1.05" stroke-dasharray="2.5,4.3,0.8,4.3"/>
<path d="M471.4 431.5V439.7" stroke="#4a3a80" stroke-width="0.75" fill="none"/>
<path d="M469.7 431.5H473.1M469.7 439.7H473.1" stroke="#4a3a80" stroke-width="0.95" fill="none"/>
<polygon points="471.4,433.47 472.59,435.6 471.4,437.72 470.21,435.6" fill="#6038a8" stroke="#3a1a7a" stroke-width="0.6"/>
<text x="487.2" y="438.8" font-size="8.3">PG88-16(PM)</text>
<line x1="25.9" y1="777" x2="270" y2="777" stroke="#a4a4a4" stroke-width="1.1"/>
<line x1="25.9" y1="744.04" x2="270" y2="744.04" stroke="#a4a4a4" stroke-width="1.1"/>
<line x1="25.9" y1="711.08" x2="270" y2="711.08" stroke="#a4a4a4" stroke-width="1.1"/>
<line x1="25.9" y1="678.12" x2="270" y2="678.12" stroke="#a4a4a4" stroke-width="1.1"/>
<line x1="25.9" y1="645.16" x2="270" y2="645.16" stroke="#a4a4a4" stroke-width="1.1"/>
<line x1="25.9" y1="612.2" x2="270" y2="612.2" stroke="#a4a4a4" stroke-width="1.1"/>
<line x1="37" y1="612.2" x2="37" y2="777" stroke="#a4a4a4" stroke-width="1.45"/>
<line x1="147.95" y1="612.2" x2="147.95" y2="777" stroke="#a4a4a4" stroke-width="1.45"/>
<line x1="258.9" y1="612.2" x2="258.9" y2="777" stroke="#a4a4a4" stroke-width="1.45"/>
<rect x="25.9" y="612.2" width="244.1" height="164.8" fill="none" stroke="#808080" stroke-width="1.5"/>
<line x1="23.9" y1="777" x2="25.9" y2="777" stroke="#555" stroke-width="1"/>
<text x="22.3" y="780.4" font-size="9.5" text-anchor="end">30</text>
<line x1="23.9" y1="744.04" x2="25.9" y2="744.04" stroke="#555" stroke-width="1"/>
<text x="22.3" y="747.44" font-size="9.5" text-anchor="end">40</text>
<line x1="23.9" y1="711.08" x2="25.9" y2="711.08" stroke="#555" stroke-width="1"/>
<text x="22.3" y="714.48" font-size="9.5" text-anchor="end">50</text>
<line x1="23.9" y1="678.12" x2="25.9" y2="678.12" stroke="#555" stroke-width="1"/>
<text x="22.3" y="681.52" font-size="9.5" text-anchor="end">60</text>
<line x1="23.9" y1="645.16" x2="25.9" y2="645.16" stroke="#555" stroke-width="1"/>
<text x="22.3" y="648.56" font-size="9.5" text-anchor="end">70</text>
<line x1="23.9" y1="612.2" x2="25.9" y2="612.2" stroke="#555" stroke-width="1"/>
<text x="22.3" y="615.6" font-size="9.5" text-anchor="end">80</text>
<line x1="37" y1="777" x2="37" y2="779" stroke="#555" stroke-width="1"/>
<text x="37" y="788.3" font-size="9.7" text-anchor="middle">HFST</text>
<line x1="147.95" y1="777" x2="147.95" y2="779" stroke="#555" stroke-width="1"/>
<text x="147.95" y="788.3" font-size="9.7" text-anchor="middle">Medium</text>
<line x1="258.9" y1="777" x2="258.9" y2="779" stroke="#555" stroke-width="1"/>
<text x="258.9" y="788.3" font-size="9.7" text-anchor="middle">Coarse</text>
<text x="147.95" y="609" font-size="10.7" text-anchor="middle">Flint (Pre-polish)</text>
<text x="0" y="0" font-size="8.5" text-anchor="middle" transform="translate(9.4 694.6) rotate(-90)">BPN</text>
<path d="M37 677.79 L147.95 664.61 L258.9 671.53" fill="none" stroke="#2c3045" stroke-width="1.15"/>
<path d="M37 671.53V684.05" stroke="#2c3045" stroke-width="0.6" stroke-opacity="0.85" fill="none"/>
<path d="M35.3 671.53H38.7M35.3 684.05H38.7" stroke="#2c3045" stroke-width="0.95" fill="none"/>
<path d="M147.95 657.36V671.86" stroke="#2c3045" stroke-width="0.6" stroke-opacity="0.85" fill="none"/>
<path d="M146.25 657.36H149.65M146.25 671.86H149.65" stroke="#2c3045" stroke-width="0.95" fill="none"/>
<path d="M258.9 664.61V678.45" stroke="#2c3045" stroke-width="0.6" stroke-opacity="0.85" fill="none"/>
<path d="M257.2 664.61H260.6M257.2 678.45H260.6" stroke="#2c3045" stroke-width="0.95" fill="none"/>
<circle cx="37" cy="677.79" r="1.7" fill="#1f4e9e" stroke="#17285a" stroke-width="0.6"/>
<circle cx="147.95" cy="664.61" r="1.7" fill="#1f4e9e" stroke="#17285a" stroke-width="0.6"/>
<circle cx="258.9" cy="671.53" r="1.7" fill="#1f4e9e" stroke="#17285a" stroke-width="0.6"/>
<path d="M37 663.95 L147.95 683.39 L258.9 685.37" fill="none" stroke="#c83e30" stroke-width="1.15" stroke-dasharray="2.9,1.7"/>
<path d="M37 655.38V672.52" stroke="#c85040" stroke-width="0.6" stroke-opacity="0.85" fill="none"/>
<path d="M35.3 655.38H38.7M35.3 672.52H38.7" stroke="#c85040" stroke-width="0.95" fill="none"/>
<path d="M147.95 677.13V689.66" stroke="#c85040" stroke-width="0.6" stroke-opacity="0.85" fill="none"/>
<path d="M146.25 677.13H149.65M146.25 689.66H149.65" stroke="#c85040" stroke-width="0.95" fill="none"/>
<path d="M258.9 678.45V692.29" stroke="#c85040" stroke-width="0.6" stroke-opacity="0.85" fill="none"/>
<path d="M257.2 678.45H260.6M257.2 692.29H260.6" stroke="#c85040" stroke-width="0.95" fill="none"/>
<polygon points="37,662.09 38.85,665.34 35.14,665.34" fill="#f06418" stroke="#d04a20" stroke-width="0.6"/>
<polygon points="147.95,681.54 149.81,684.79 146.09,684.79" fill="#f06418" stroke="#d04a20" stroke-width="0.6"/>
<polygon points="258.9,683.51 260.76,686.76 257.05,686.76" fill="#f06418" stroke="#d04a20" stroke-width="0.6"/>
<path d="M37 668.89 L147.95 676.47 L258.9 680.76" fill="none" stroke="#1c361c" stroke-width="1.15" stroke-dasharray="5.0,1.4,0.8,1.4"/>
<path d="M37 662.3V675.48" stroke="#2a3a2a" stroke-width="0.6" stroke-opacity="0.85" fill="none"/>
<path d="M35.3 662.3H38.7M35.3 675.48H38.7" stroke="#2a3a2a" stroke-width="0.95" fill="none"/>
<path d="M147.95 669.88V683.06" stroke="#2a3a2a" stroke-width="0.6" stroke-opacity="0.85" fill="none"/>
<path d="M146.25 669.88H149.65M146.25 683.06H149.65" stroke="#2a3a2a" stroke-width="0.95" fill="none"/>
<path d="M258.9 674.82V686.69" stroke="#2a3a2a" stroke-width="0.6" stroke-opacity="0.85" fill="none"/>
<path d="M257.2 674.82H260.6M257.2 686.69H260.6" stroke="#2a3a2a" stroke-width="0.95" fill="none"/>
<rect x="35.55" y="667.45" width="2.89" height="2.89" fill="#1e8c1e" stroke="#174a17" stroke-width="0.6"/>
<rect x="146.5" y="675.03" width="2.89" height="2.89" fill="#1e8c1e" stroke="#174a17" stroke-width="0.6"/>
<rect x="257.46" y="679.31" width="2.89" height="2.89" fill="#1e8c1e" stroke="#174a17" stroke-width="0.6"/>
<path d="M37 671.2 L147.95 679.44 L258.9 677.79" fill="none" stroke="#3a2828" stroke-width="1.05" stroke-dasharray="1.0,1.1"/>
<path d="M37 664.61V677.79" stroke="#5a2a2a" stroke-width="0.6" stroke-opacity="0.85" fill="none"/>
<path d="M35.3 664.61H38.7M35.3 677.79H38.7" stroke="#5a2a2a" stroke-width="0.95" fill="none"/>
<path d="M147.95 672.85V686.03" stroke="#5a2a2a" stroke-width="0.6" stroke-opacity="0.85" fill="none"/>
<path d="M146.25 672.85H149.65M146.25 686.03H149.65" stroke="#5a2a2a" stroke-width="0.95" fill="none"/>
<path d="M258.9 671.2V684.38" stroke="#5a2a2a" stroke-width="0.6" stroke-opacity="0.85" fill="none"/>
<path d="M257.2 671.2H260.6M257.2 684.38H260.6" stroke="#5a2a2a" stroke-width="0.95" fill="none"/>
<circle cx="37" cy="671.2" r="1.61" fill="#8e0e16" stroke="#5a0c0c" stroke-width="0.6"/>
<circle cx="147.95" cy="679.44" r="1.61" fill="#8e0e16" stroke="#5a0c0c" stroke-width="0.6"/>
<circle cx="258.9" cy="677.79" r="1.61" fill="#8e0e16" stroke="#5a0c0c" stroke-width="0.6"/>
<path d="M37 674.82 L147.95 674.82 L258.9 680.76" fill="none" stroke="#2a2a35" stroke-width="1.05" stroke-dasharray="2.5,4.3,0.8,4.3"/>
<path d="M37 668.23V681.42" stroke="#4a3a80" stroke-width="0.6" stroke-opacity="0.85" fill="none"/>
<path d="M35.3 668.23H38.7M35.3 681.42H38.7" stroke="#4a3a80" stroke-width="0.95" fill="none"/>
<path d="M147.95 668.23V681.42" stroke="#4a3a80" stroke-width="0.6" stroke-opacity="0.85" fill="none"/>
<path d="M146.25 668.23H149.65M146.25 681.42H149.65" stroke="#4a3a80" stroke-width="0.95" fill="none"/>
<path d="M258.9 674.82V686.69" stroke="#4a3a80" stroke-width="0.6" stroke-opacity="0.85" fill="none"/>
<path d="M257.2 674.82H260.6M257.2 686.69H260.6" stroke="#4a3a80" stroke-width="0.95" fill="none"/>
<polygon points="37,672.7 38.19,674.82 37,676.95 35.81,674.82" fill="#6038a8" stroke="#3a1a7a" stroke-width="0.6"/>
<polygon points="147.95,672.7 149.14,674.82 147.95,676.95 146.76,674.82" fill="#6038a8" stroke="#3a1a7a" stroke-width="0.6"/>
<polygon points="258.9,678.63 260.09,680.76 258.9,682.88 257.71,680.76" fill="#6038a8" stroke="#3a1a7a" stroke-width="0.6"/>
<rect x="104.7" y="734.8" width="161.6" height="38.2" rx="2" fill="#ffffff" fill-opacity="0.93" stroke="#d0d0d0" stroke-width="0.9"/>
<path d="M107.3 741.3 L124.9 741.3" fill="none" stroke="#2c3045" stroke-width="1.15"/>
<path d="M116.1 737.2V745.4" stroke="#2c3045" stroke-width="0.75" fill="none"/>
<path d="M114.4 737.2H117.8M114.4 745.4H117.8" stroke="#2c3045" stroke-width="0.95" fill="none"/>
<circle cx="116.1" cy="741.3" r="1.7" fill="#1f4e9e" stroke="#17285a" stroke-width="0.6"/>
<text x="131.9" y="744.5" font-size="8.3">Epoxy Resin</text>
<path d="M107.3 753.2 L124.9 753.2" fill="none" stroke="#c83e30" stroke-width="1.15" stroke-dasharray="2.9,1.7"/>
<path d="M116.1 749.1V757.3" stroke="#c85040" stroke-width="0.75" fill="none"/>
<path d="M114.4 749.1H117.8M114.4 757.3H117.8" stroke="#c85040" stroke-width="0.95" fill="none"/>
<polygon points="116.1,751.34 117.96,754.59 114.24,754.59" fill="#f06418" stroke="#d04a20" stroke-width="0.6"/>
<text x="131.9" y="756.4" font-size="8.3">PG88-16</text>
<path d="M107.3 765.1 L124.9 765.1" fill="none" stroke="#1c361c" stroke-width="1.15" stroke-dasharray="5.0,1.4,0.8,1.4"/>
<path d="M116.1 761V769.2" stroke="#2a3a2a" stroke-width="0.75" fill="none"/>
<path d="M114.4 761H117.8M114.4 769.2H117.8" stroke="#2a3a2a" stroke-width="0.95" fill="none"/>
<rect x="114.66" y="763.65" width="2.89" height="2.89" fill="#1e8c1e" stroke="#174a17" stroke-width="0.6"/>
<text x="131.9" y="768.3" font-size="8.3">PG82-16</text>
<path d="M190.9 741.3 L208.5 741.3" fill="none" stroke="#3a2828" stroke-width="1.05" stroke-dasharray="1.0,1.1"/>
<path d="M199.7 737.2V745.4" stroke="#5a2a2a" stroke-width="0.75" fill="none"/>
<path d="M198 737.2H201.4M198 745.4H201.4" stroke="#5a2a2a" stroke-width="0.95" fill="none"/>
<circle cx="199.7" cy="741.3" r="1.61" fill="#8e0e16" stroke="#5a0c0c" stroke-width="0.6"/>
<text x="215.5" y="744.5" font-size="8.3">PG82-22(PM)</text>
<path d="M190.9 753.2 L208.5 753.2" fill="none" stroke="#2a2a35" stroke-width="1.05" stroke-dasharray="2.5,4.3,0.8,4.3"/>
<path d="M199.7 749.1V757.3" stroke="#4a3a80" stroke-width="0.75" fill="none"/>
<path d="M198 749.1H201.4M198 757.3H201.4" stroke="#4a3a80" stroke-width="0.95" fill="none"/>
<polygon points="199.7,751.07 200.89,753.2 199.7,755.32 198.51,753.2" fill="#6038a8" stroke="#3a1a7a" stroke-width="0.6"/>
<text x="215.5" y="756.4" font-size="8.3">PG88-16(PM)</text>
<line x1="297.5" y1="777" x2="541.5" y2="777" stroke="#a4a4a4" stroke-width="1.1"/>
<line x1="297.5" y1="744.04" x2="541.5" y2="744.04" stroke="#a4a4a4" stroke-width="1.1"/>
<line x1="297.5" y1="711.08" x2="541.5" y2="711.08" stroke="#a4a4a4" stroke-width="1.1"/>
<line x1="297.5" y1="678.12" x2="541.5" y2="678.12" stroke="#a4a4a4" stroke-width="1.1"/>
<line x1="297.5" y1="645.16" x2="541.5" y2="645.16" stroke="#a4a4a4" stroke-width="1.1"/>
<line x1="297.5" y1="612.2" x2="541.5" y2="612.2" stroke="#a4a4a4" stroke-width="1.1"/>
<line x1="308.59" y1="612.2" x2="308.59" y2="777" stroke="#a4a4a4" stroke-width="1.45"/>
<line x1="419.5" y1="612.2" x2="419.5" y2="777" stroke="#a4a4a4" stroke-width="1.45"/>
<line x1="530.41" y1="612.2" x2="530.41" y2="777" stroke="#a4a4a4" stroke-width="1.45"/>
<rect x="297.5" y="612.2" width="244" height="164.8" fill="none" stroke="#808080" stroke-width="1.5"/>
<line x1="295.5" y1="777" x2="297.5" y2="777" stroke="#555" stroke-width="1"/>
<text x="293.9" y="780.4" font-size="9.5" text-anchor="end">30</text>
<line x1="295.5" y1="744.04" x2="297.5" y2="744.04" stroke="#555" stroke-width="1"/>
<text x="293.9" y="747.44" font-size="9.5" text-anchor="end">40</text>
<line x1="295.5" y1="711.08" x2="297.5" y2="711.08" stroke="#555" stroke-width="1"/>
<text x="293.9" y="714.48" font-size="9.5" text-anchor="end">50</text>
<line x1="295.5" y1="678.12" x2="297.5" y2="678.12" stroke="#555" stroke-width="1"/>
<text x="293.9" y="681.52" font-size="9.5" text-anchor="end">60</text>
<line x1="295.5" y1="645.16" x2="297.5" y2="645.16" stroke="#555" stroke-width="1"/>
<text x="293.9" y="648.56" font-size="9.5" text-anchor="end">70</text>
<line x1="295.5" y1="612.2" x2="297.5" y2="612.2" stroke="#555" stroke-width="1"/>
<text x="293.9" y="615.6" font-size="9.5" text-anchor="end">80</text>
<line x1="308.59" y1="777" x2="308.59" y2="779" stroke="#555" stroke-width="1"/>
<text x="308.59" y="788.3" font-size="9.7" text-anchor="middle">HFST</text>
<line x1="419.5" y1="777" x2="419.5" y2="779" stroke="#555" stroke-width="1"/>
<text x="419.5" y="788.3" font-size="9.7" text-anchor="middle">Medium</text>
<line x1="530.41" y1="777" x2="530.41" y2="779" stroke="#555" stroke-width="1"/>
<text x="530.41" y="788.3" font-size="9.7" text-anchor="middle">Coarse</text>
<text x="419.5" y="609" font-size="10.7" text-anchor="middle">Flint (Post-polish)</text>
<path d="M308.59 697.24 L419.5 691.3 L530.41 684.71" fill="none" stroke="#2c3045" stroke-width="1.15"/>
<path d="M308.59 691.3V703.17" stroke="#2c3045" stroke-width="0.6" stroke-opacity="0.85" fill="none"/>
<path d="M306.89 691.3H310.29M306.89 703.17H310.29" stroke="#2c3045" stroke-width="0.95" fill="none"/>
<path d="M419.5 684.05V698.56" stroke="#2c3045" stroke-width="0.6" stroke-opacity="0.85" fill="none"/>
<path d="M417.8 684.05H421.2M417.8 698.56H421.2" stroke="#2c3045" stroke-width="0.95" fill="none"/>
<path d="M530.41 677.46V691.96" stroke="#2c3045" stroke-width="0.6" stroke-opacity="0.85" fill="none"/>
<path d="M528.71 677.46H532.11M528.71 691.96H532.11" stroke="#2c3045" stroke-width="0.95" fill="none"/>
<circle cx="308.59" cy="697.24" r="1.7" fill="#1f4e9e" stroke="#17285a" stroke-width="0.6"/>
<circle cx="419.5" cy="691.3" r="1.7" fill="#1f4e9e" stroke="#17285a" stroke-width="0.6"/>
<circle cx="530.41" cy="684.71" r="1.7" fill="#1f4e9e" stroke="#17285a" stroke-width="0.6"/>
<path d="M308.59 693.94 L419.5 733.49 L530.41 712.73" fill="none" stroke="#c83e30" stroke-width="1.15" stroke-dasharray="2.9,1.7"/>
<path d="M308.59 687.35V700.53" stroke="#c85040" stroke-width="0.6" stroke-opacity="0.85" fill="none"/>
<path d="M306.89 687.35H310.29M306.89 700.53H310.29" stroke="#c85040" stroke-width="0.95" fill="none"/>
<path d="M419.5 727.89V739.1" stroke="#c85040" stroke-width="0.6" stroke-opacity="0.85" fill="none"/>
<path d="M417.8 727.89H421.2M417.8 739.1H421.2" stroke="#c85040" stroke-width="0.95" fill="none"/>
<path d="M530.41 706.14V719.32" stroke="#c85040" stroke-width="0.6" stroke-opacity="0.85" fill="none"/>
<path d="M528.71 706.14H532.11M528.71 719.32H532.11" stroke="#c85040" stroke-width="0.95" fill="none"/>
<polygon points="308.59,692.08 310.45,695.33 306.73,695.33" fill="#f06418" stroke="#d04a20" stroke-width="0.6"/>
<polygon points="419.5,731.64 421.36,734.89 417.64,734.89" fill="#f06418" stroke="#d04a20" stroke-width="0.6"/>
<polygon points="530.41,710.87 532.27,714.12 528.55,714.12" fill="#f06418" stroke="#d04a20" stroke-width="0.6"/>
<path d="M308.59 698.88 L419.5 725.91 L530.41 712.4" fill="none" stroke="#1c361c" stroke-width="1.15" stroke-dasharray="5.0,1.4,0.8,1.4"/>
<path d="M308.59 692.95V704.82" stroke="#2a3a2a" stroke-width="0.6" stroke-opacity="0.85" fill="none"/>
<path d="M306.89 692.95H310.29M306.89 704.82H310.29" stroke="#2a3a2a" stroke-width="0.95" fill="none"/>
<path d="M419.5 719.32V732.5" stroke="#2a3a2a" stroke-width="0.6" stroke-opacity="0.85" fill="none"/>
<path d="M417.8 719.32H421.2M417.8 732.5H421.2" stroke="#2a3a2a" stroke-width="0.95" fill="none"/>
<path d="M530.41 706.47V718.33" stroke="#2a3a2a" stroke-width="0.6" stroke-opacity="0.85" fill="none"/>
<path d="M528.71 706.47H532.11M528.71 718.33H532.11" stroke="#2a3a2a" stroke-width="0.95" fill="none"/>
<rect x="307.15" y="697.44" width="2.89" height="2.89" fill="#1e8c1e" stroke="#174a17" stroke-width="0.6"/>
<rect x="418.06" y="724.47" width="2.89" height="2.89" fill="#1e8c1e" stroke="#174a17" stroke-width="0.6"/>
<rect x="528.96" y="710.95" width="2.89" height="2.89" fill="#1e8c1e" stroke="#174a17" stroke-width="0.6"/>
<path d="M308.59 700.86 L419.5 718.33 L530.41 707.12" fill="none" stroke="#3a2828" stroke-width="1.05" stroke-dasharray="1.0,1.1"/>
<path d="M308.59 694.27V707.45" stroke="#5a2a2a" stroke-width="0.6" stroke-opacity="0.85" fill="none"/>
<path d="M306.89 694.27H310.29M306.89 707.45H310.29" stroke="#5a2a2a" stroke-width="0.95" fill="none"/>
<path d="M419.5 711.74V724.92" stroke="#5a2a2a" stroke-width="0.6" stroke-opacity="0.85" fill="none"/>
<path d="M417.8 711.74H421.2M417.8 724.92H421.2" stroke="#5a2a2a" stroke-width="0.95" fill="none"/>
<path d="M530.41 702.18V712.07" stroke="#5a2a2a" stroke-width="0.6" stroke-opacity="0.85" fill="none"/>
<path d="M528.71 702.18H532.11M528.71 712.07H532.11" stroke="#5a2a2a" stroke-width="0.95" fill="none"/>
<circle cx="308.59" cy="700.86" r="1.61" fill="#8e0e16" stroke="#5a0c0c" stroke-width="0.6"/>
<circle cx="419.5" cy="718.33" r="1.61" fill="#8e0e16" stroke="#5a0c0c" stroke-width="0.6"/>
<circle cx="530.41" cy="707.12" r="1.61" fill="#8e0e16" stroke="#5a0c0c" stroke-width="0.6"/>
<path d="M308.59 707.45 L419.5 704.49 L530.41 717.67" fill="none" stroke="#2a2a35" stroke-width="1.05" stroke-dasharray="2.5,4.3,0.8,4.3"/>
<path d="M308.59 702.51V712.4" stroke="#4a3a80" stroke-width="0.6" stroke-opacity="0.85" fill="none"/>
<path d="M306.89 702.51H310.29M306.89 712.4H310.29" stroke="#4a3a80" stroke-width="0.95" fill="none"/>
<path d="M419.5 698.56V710.42" stroke="#4a3a80" stroke-width="0.6" stroke-opacity="0.85" fill="none"/>
<path d="M417.8 698.56H421.2M417.8 710.42H421.2" stroke="#4a3a80" stroke-width="0.95" fill="none"/>
<path d="M530.41 711.41V723.93" stroke="#4a3a80" stroke-width="0.6" stroke-opacity="0.85" fill="none"/>
<path d="M528.71 711.41H532.11M528.71 723.93H532.11" stroke="#4a3a80" stroke-width="0.95" fill="none"/>
<polygon points="308.59,705.33 309.78,707.45 308.59,709.58 307.4,707.45" fill="#6038a8" stroke="#3a1a7a" stroke-width="0.6"/>
<polygon points="419.5,702.36 420.69,704.49 419.5,706.61 418.31,704.49" fill="#6038a8" stroke="#3a1a7a" stroke-width="0.6"/>
<polygon points="530.41,715.55 531.6,717.67 530.41,719.8 529.22,717.67" fill="#6038a8" stroke="#3a1a7a" stroke-width="0.6"/>
<rect x="376.4" y="616" width="161.6" height="38.2" rx="2" fill="#ffffff" fill-opacity="0.93" stroke="#d0d0d0" stroke-width="0.9"/>
<path d="M379 622.5 L396.6 622.5" fill="none" stroke="#2c3045" stroke-width="1.15"/>
<path d="M387.8 618.4V626.6" stroke="#2c3045" stroke-width="0.75" fill="none"/>
<path d="M386.1 618.4H389.5M386.1 626.6H389.5" stroke="#2c3045" stroke-width="0.95" fill="none"/>
<circle cx="387.8" cy="622.5" r="1.7" fill="#1f4e9e" stroke="#17285a" stroke-width="0.6"/>
<text x="403.6" y="625.7" font-size="8.3">Epoxy Resin</text>
<path d="M379 634.4 L396.6 634.4" fill="none" stroke="#c83e30" stroke-width="1.15" stroke-dasharray="2.9,1.7"/>
<path d="M387.8 630.3V638.5" stroke="#c85040" stroke-width="0.75" fill="none"/>
<path d="M386.1 630.3H389.5M386.1 638.5H389.5" stroke="#c85040" stroke-width="0.95" fill="none"/>
<polygon points="387.8,632.54 389.66,635.79 385.94,635.79" fill="#f06418" stroke="#d04a20" stroke-width="0.6"/>
<text x="403.6" y="637.6" font-size="8.3">PG88-16</text>
<path d="M379 646.3 L396.6 646.3" fill="none" stroke="#1c361c" stroke-width="1.15" stroke-dasharray="5.0,1.4,0.8,1.4"/>
<path d="M387.8 642.2V650.4" stroke="#2a3a2a" stroke-width="0.75" fill="none"/>
<path d="M386.1 642.2H389.5M386.1 650.4H389.5" stroke="#2a3a2a" stroke-width="0.95" fill="none"/>
<rect x="386.36" y="644.85" width="2.89" height="2.89" fill="#1e8c1e" stroke="#174a17" stroke-width="0.6"/>
<text x="403.6" y="649.5" font-size="8.3">PG82-16</text>
<path d="M462.6 622.5 L480.2 622.5" fill="none" stroke="#3a2828" stroke-width="1.05" stroke-dasharray="1.0,1.1"/>
<path d="M471.4 618.4V626.6" stroke="#5a2a2a" stroke-width="0.75" fill="none"/>
<path d="M469.7 618.4H473.1M469.7 626.6H473.1" stroke="#5a2a2a" stroke-width="0.95" fill="none"/>
<circle cx="471.4" cy="622.5" r="1.61" fill="#8e0e16" stroke="#5a0c0c" stroke-width="0.6"/>
<text x="487.2" y="625.7" font-size="8.3">PG82-22(PM)</text>
<path d="M462.6 634.4 L480.2 634.4" fill="none" stroke="#2a2a35" stroke-width="1.05" stroke-dasharray="2.5,4.3,0.8,4.3"/>
<path d="M471.4 630.3V638.5" stroke="#4a3a80" stroke-width="0.75" fill="none"/>
<path d="M469.7 630.3H473.1M469.7 638.5H473.1" stroke="#4a3a80" stroke-width="0.95" fill="none"/>
<polygon points="471.4,632.27 472.59,634.4 471.4,636.52 470.21,634.4" fill="#6038a8" stroke="#3a1a7a" stroke-width="0.6"/>
<text x="487.2" y="637.6" font-size="8.3">PG88-16(PM)</text>
</svg>
</body></html>
